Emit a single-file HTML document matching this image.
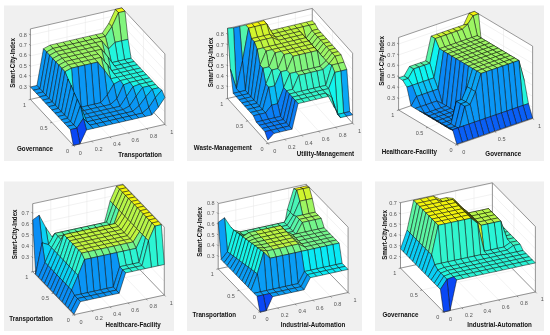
<!DOCTYPE html>
<html><head><meta charset="utf-8"><style>
html,body{margin:0;padding:0;background:#fff;}
svg{display:block;filter:blur(0.3px);}
</style></head><body>
<svg xmlns="http://www.w3.org/2000/svg" width="550" height="335" viewBox="0 0 550 335">
<rect width="550" height="335" fill="#fff"/>
<rect x="4" y="5.5" width="170" height="155.5" fill="#f0f0f0"/>
<polygon points="30.4,99.4 73.4,145.4 164.9,124.4 164.9,53.9 121.9,7.9 30.4,28.9" fill="#fff"/>
<g stroke="#e4e4e4" stroke-width="0.5"><line x1="73.4" y1="145.4" x2="30.4" y2="99.4"/><line x1="30.4" y1="99.4" x2="30.4" y2="28.9"/><line x1="91.7" y1="141.2" x2="48.7" y2="95.2"/><line x1="48.7" y1="95.2" x2="48.7" y2="24.7"/><line x1="110" y1="137" x2="67" y2="91"/><line x1="67" y1="91" x2="67" y2="20.5"/><line x1="128.3" y1="132.8" x2="85.3" y2="86.8"/><line x1="85.3" y1="86.8" x2="85.3" y2="16.3"/><line x1="146.6" y1="128.6" x2="103.6" y2="82.6"/><line x1="103.6" y1="82.6" x2="103.6" y2="12.1"/><line x1="164.9" y1="124.4" x2="121.9" y2="78.4"/><line x1="121.9" y1="78.4" x2="121.9" y2="7.9"/><line x1="73.4" y1="145.4" x2="164.9" y2="124.4"/><line x1="164.9" y1="124.4" x2="164.9" y2="53.9"/><line x1="51.9" y1="122.4" x2="143.4" y2="101.4"/><line x1="143.4" y1="101.4" x2="143.4" y2="30.9"/><line x1="30.4" y1="99.4" x2="121.9" y2="78.4"/><line x1="121.9" y1="78.4" x2="121.9" y2="7.9"/><line x1="30.4" y1="86.96" x2="121.9" y2="65.96"/><line x1="121.9" y1="65.96" x2="164.9" y2="111.96"/><line x1="30.4" y1="76.59" x2="121.9" y2="55.59"/><line x1="121.9" y1="55.59" x2="164.9" y2="101.59"/><line x1="30.4" y1="66.22" x2="121.9" y2="45.22"/><line x1="121.9" y1="45.22" x2="164.9" y2="91.22"/><line x1="30.4" y1="55.86" x2="121.9" y2="34.86"/><line x1="121.9" y1="34.86" x2="164.9" y2="80.86"/><line x1="30.4" y1="45.49" x2="121.9" y2="24.49"/><line x1="121.9" y1="24.49" x2="164.9" y2="70.49"/><line x1="30.4" y1="35.12" x2="121.9" y2="14.12"/><line x1="121.9" y1="14.12" x2="164.9" y2="60.12"/></g>
<g stroke="#808080" stroke-width="0.8"><line x1="30.4" y1="28.9" x2="121.9" y2="7.9"/><line x1="121.9" y1="7.9" x2="164.9" y2="53.9"/><line x1="164.9" y1="53.9" x2="164.9" y2="124.4"/><line x1="121.9" y1="78.4" x2="121.9" y2="7.9"/><line x1="30.4" y1="99.4" x2="121.9" y2="78.4"/><line x1="121.9" y1="78.4" x2="164.9" y2="124.4"/></g>
<g stroke="#0a0a0a" stroke-width="0.5" stroke-linejoin="round"><polygon points="118.44,12.69 124.97,11.19 121.9,7.9 115.36,9.4" fill="#f5f50a"/><polygon points="111.9,26.63 118.44,12.69 115.36,9.4 108.83,23.34" fill="#bff540"/><polygon points="105.36,36.42 111.9,26.63 108.83,23.34 102.29,33.14" fill="#9cf563"/><polygon points="121.51,40.85 128.04,39.35 124.97,11.19 118.44,12.69" fill="#82f57d"/><polygon points="98.83,37.92 105.36,36.42 102.29,33.14 95.76,34.64" fill="#9cf563"/><polygon points="114.97,42.35 121.51,40.85 118.44,12.69 111.9,26.63" fill="#82f57d"/><polygon points="92.29,39.42 98.83,37.92 95.76,34.64 89.22,36.14" fill="#9cf563"/><polygon points="108.44,49.04 114.97,42.35 111.9,26.63 105.36,36.42" fill="#62f59d"/><polygon points="124.58,59.69 131.11,58.19 128.04,39.35 121.51,40.85" fill="#22f5dd"/><polygon points="85.76,40.92 92.29,39.42 89.22,36.14 82.69,37.64" fill="#9cf563"/><polygon points="101.9,41.21 108.44,49.04 105.36,36.42 98.83,37.92" fill="#9cf563"/><polygon points="118.04,61.19 124.58,59.69 121.51,40.85 114.97,42.35" fill="#22f5dd"/><polygon points="79.22,42.42 85.76,40.92 82.69,37.64 76.15,39.14" fill="#9cf563"/><polygon points="95.36,42.71 101.9,41.21 98.83,37.92 92.29,39.42" fill="#9cf563"/><polygon points="111.51,62.69 118.04,61.19 114.97,42.35 108.44,49.04" fill="#22f5dd"/><polygon points="127.65,62.98 134.19,61.48 131.11,58.19 124.58,59.69" fill="#22f5dd"/><polygon points="72.69,43.92 79.22,42.42 76.15,39.14 69.61,40.64" fill="#9cf563"/><polygon points="88.83,44.21 95.36,42.71 92.29,39.42 85.76,40.92" fill="#9cf563"/><polygon points="104.97,53.82 111.51,62.69 108.44,49.04 101.9,41.21" fill="#62f59d"/><polygon points="121.11,64.48 127.65,62.98 124.58,59.69 118.04,61.19" fill="#22f5dd"/><polygon points="66.15,45.42 72.69,43.92 69.61,40.64 63.08,42.14" fill="#9cf563"/><polygon points="82.29,45.71 88.83,44.21 85.76,40.92 79.22,42.42" fill="#9cf563"/><polygon points="98.44,45.99 104.97,53.82 101.9,41.21 95.36,42.71" fill="#9cf563"/><polygon points="114.58,65.98 121.11,64.48 118.04,61.19 111.51,62.69" fill="#22f5dd"/><polygon points="130.72,66.26 137.26,64.76 134.19,61.48 127.65,62.98" fill="#22f5dd"/><polygon points="59.61,46.92 66.15,45.42 63.08,42.14 56.54,43.64" fill="#9cf563"/><polygon points="75.76,47.21 82.29,45.71 79.22,42.42 72.69,43.92" fill="#9cf563"/><polygon points="91.9,47.49 98.44,45.99 95.36,42.71 88.83,44.21" fill="#9cf563"/><polygon points="108.04,57.11 114.58,65.98 111.51,62.69 104.97,53.82" fill="#62f59d"/><polygon points="124.19,67.76 130.72,66.26 127.65,62.98 121.11,64.48" fill="#22f5dd"/><polygon points="53.08,48.42 59.61,46.92 56.54,43.64 50.01,45.14" fill="#9cf563"/><polygon points="69.22,48.71 75.76,47.21 72.69,43.92 66.15,45.42" fill="#9cf563"/><polygon points="85.36,48.99 91.9,47.49 88.83,44.21 82.29,45.71" fill="#9cf563"/><polygon points="101.51,49.28 108.04,57.11 104.97,53.82 98.44,45.99" fill="#9cf563"/><polygon points="117.65,69.26 124.19,67.76 121.11,64.48 114.58,65.98" fill="#22f5dd"/><polygon points="133.79,69.55 140.33,68.05 137.26,64.76 130.72,66.26" fill="#22f5dd"/><polygon points="46.54,51.99 53.08,48.42 50.01,45.14 43.47,48.71" fill="#8ff570"/><polygon points="62.69,50.21 69.22,48.71 66.15,45.42 59.61,46.92" fill="#9cf563"/><polygon points="78.83,50.49 85.36,48.99 82.29,45.71 75.76,47.21" fill="#9cf563"/><polygon points="94.97,50.78 101.51,49.28 98.44,45.99 91.9,47.49" fill="#9cf563"/><polygon points="111.11,70.76 117.65,69.26 114.58,65.98 108.04,57.11" fill="#22f5dd"/><polygon points="127.26,71.05 133.79,69.55 130.72,66.26 124.19,67.76" fill="#22f5dd"/><polygon points="40.01,88.74 46.54,51.99 43.47,48.71 36.94,85.46" fill="#0a97f5"/><polygon points="56.15,51.71 62.69,50.21 59.61,46.92 53.08,48.42" fill="#9cf563"/><polygon points="72.29,51.99 78.83,50.49 75.76,47.21 69.22,48.71" fill="#9cf563"/><polygon points="88.44,52.28 94.97,50.78 91.9,47.49 85.36,48.99" fill="#9cf563"/><polygon points="104.58,61.89 111.11,70.76 108.04,57.11 101.51,49.28" fill="#62f59d"/><polygon points="120.72,72.55 127.26,71.05 124.19,67.76 117.65,69.26" fill="#22f5dd"/><polygon points="136.86,72.83 143.4,71.33 140.33,68.05 133.79,69.55" fill="#22f5dd"/><polygon points="33.47,90.24 40.01,88.74 36.94,85.46 30.4,86.96" fill="#0a97f5"/><polygon points="49.61,55.28 56.15,51.71 53.08,48.42 46.54,51.99" fill="#8ff570"/><polygon points="65.76,53.49 72.29,51.99 69.22,48.71 62.69,50.21" fill="#9cf563"/><polygon points="81.9,53.78 88.44,52.28 85.36,48.99 78.83,50.49" fill="#9cf563"/><polygon points="98.04,54.06 104.58,61.89 101.51,49.28 94.97,50.78" fill="#9cf563"/><polygon points="114.19,74.05 120.72,72.55 117.65,69.26 111.11,70.76" fill="#22f5dd"/><polygon points="130.33,74.33 136.86,72.83 133.79,69.55 127.26,71.05" fill="#22f5dd"/><polygon points="43.08,92.03 49.61,55.28 46.54,51.99 40.01,88.74" fill="#0a97f5"/><polygon points="59.22,54.99 65.76,53.49 62.69,50.21 56.15,51.71" fill="#9cf563"/><polygon points="75.36,55.28 81.9,53.78 78.83,50.49 72.29,51.99" fill="#9cf563"/><polygon points="91.51,55.56 98.04,54.06 94.97,50.78 88.44,52.28" fill="#9cf563"/><polygon points="107.65,65.18 114.19,74.05 111.11,70.76 104.58,61.89" fill="#62f59d"/><polygon points="123.79,75.83 130.33,74.33 127.26,71.05 120.72,72.55" fill="#22f5dd"/><polygon points="139.94,76.12 146.47,74.62 143.4,71.33 136.86,72.83" fill="#22f5dd"/><polygon points="36.54,93.53 43.08,92.03 40.01,88.74 33.47,90.24" fill="#0a97f5"/><polygon points="52.69,58.57 59.22,54.99 56.15,51.71 49.61,55.28" fill="#8ff570"/><polygon points="68.83,56.78 75.36,55.28 72.29,51.99 65.76,53.49" fill="#9cf563"/><polygon points="84.97,57.06 91.51,55.56 88.44,52.28 81.9,53.78" fill="#9cf563"/><polygon points="101.11,57.35 107.65,65.18 104.58,61.89 98.04,54.06" fill="#9cf563"/><polygon points="117.26,77.33 123.79,75.83 120.72,72.55 114.19,74.05" fill="#22f5dd"/><polygon points="133.4,77.62 139.94,76.12 136.86,72.83 130.33,74.33" fill="#22f5dd"/><polygon points="46.15,95.32 52.69,58.57 49.61,55.28 43.08,92.03" fill="#0a97f5"/><polygon points="62.29,58.28 68.83,56.78 65.76,53.49 59.22,54.99" fill="#9cf563"/><polygon points="78.44,58.56 84.97,57.06 81.9,53.78 75.36,55.28" fill="#9cf563"/><polygon points="94.58,58.85 101.11,57.35 98.04,54.06 91.51,55.56" fill="#9cf563"/><polygon points="110.72,78.83 117.26,77.33 114.19,74.05 107.65,65.18" fill="#22f5dd"/><polygon points="126.86,79.12 133.4,77.62 130.33,74.33 123.79,75.83" fill="#22f5dd"/><polygon points="143.01,79.41 149.54,77.91 146.47,74.62 139.94,76.12" fill="#22f5dd"/><polygon points="39.61,96.82 46.15,95.32 43.08,92.03 36.54,93.53" fill="#0a97f5"/><polygon points="55.76,61.85 62.29,58.28 59.22,54.99 52.69,58.57" fill="#8ff570"/><polygon points="71.9,60.06 78.44,58.56 75.36,55.28 68.83,56.78" fill="#9cf563"/><polygon points="88.04,60.35 94.58,58.85 91.51,55.56 84.97,57.06" fill="#9cf563"/><polygon points="104.19,69.97 110.72,78.83 107.65,65.18 101.11,57.35" fill="#62f59d"/><polygon points="120.33,80.62 126.86,79.12 123.79,75.83 117.26,77.33" fill="#22f5dd"/><polygon points="136.47,80.91 143.01,79.41 139.94,76.12 133.4,77.62" fill="#22f5dd"/><polygon points="49.22,98.6 55.76,61.85 52.69,58.57 46.15,95.32" fill="#0a97f5"/><polygon points="65.36,61.56 71.9,60.06 68.83,56.78 62.29,58.28" fill="#9cf563"/><polygon points="81.51,61.85 88.04,60.35 84.97,57.06 78.44,58.56" fill="#9cf563"/><polygon points="97.65,62.14 104.19,69.97 101.11,57.35 94.58,58.85" fill="#9cf563"/><polygon points="113.79,84.19 120.33,80.62 117.26,77.33 110.72,78.83" fill="#14f5eb"/><polygon points="129.94,82.41 136.47,80.91 133.4,77.62 126.86,79.12" fill="#22f5dd"/><polygon points="146.08,82.69 152.61,81.19 149.54,77.91 143.01,79.41" fill="#22f5dd"/><polygon points="42.69,100.1 49.22,98.6 46.15,95.32 39.61,96.82" fill="#0a97f5"/><polygon points="58.83,65.14 65.36,61.56 62.29,58.28 55.76,61.85" fill="#8ff570"/><polygon points="74.97,63.35 81.51,61.85 78.44,58.56 71.9,60.06" fill="#9cf563"/><polygon points="91.11,63.64 97.65,62.14 94.58,58.85 88.04,60.35" fill="#9cf563"/><polygon points="107.26,95.02 113.79,84.19 110.72,78.83 104.19,69.97" fill="#0ab0f5"/><polygon points="123.4,84.94 129.94,82.41 126.86,79.12 120.33,80.62" fill="#1bf5e4"/><polygon points="139.54,84.19 146.08,82.69 143.01,79.41 136.47,80.91" fill="#22f5dd"/><polygon points="52.29,101.89 58.83,65.14 55.76,61.85 49.22,98.6" fill="#0a97f5"/><polygon points="68.44,64.85 74.97,63.35 71.9,60.06 65.36,61.56" fill="#9cf563"/><polygon points="84.58,65.14 91.11,63.64 88.04,60.35 81.51,61.85" fill="#9cf563"/><polygon points="100.72,102.74 107.26,95.02 104.19,69.97 97.65,62.14" fill="#0a97f5"/><polygon points="116.86,98.88 123.4,84.94 120.33,80.62 113.79,84.19" fill="#0aa8f5"/><polygon points="133.01,86.73 139.54,84.19 136.47,80.91 129.94,82.41" fill="#1bf5e4"/><polygon points="149.15,85.98 155.69,84.48 152.61,81.19 146.08,82.69" fill="#22f5dd"/><polygon points="45.76,103.39 52.29,101.89 49.22,98.6 42.69,100.1" fill="#0a97f5"/><polygon points="61.9,68.42 68.44,64.85 65.36,61.56 58.83,65.14" fill="#8ff570"/><polygon points="78.04,66.64 84.58,65.14 81.51,61.85 74.97,63.35" fill="#9cf563"/><polygon points="94.19,104.24 100.72,102.74 97.65,62.14 91.11,63.64" fill="#0a97f5"/><polygon points="110.33,104.53 116.86,98.88 113.79,84.19 107.26,95.02" fill="#0a97f5"/><polygon points="126.47,96.52 133.01,86.73 129.94,82.41 123.4,84.94" fill="#0ab8f5"/><polygon points="142.61,87.48 149.15,85.98 146.08,82.69 139.54,84.19" fill="#22f5dd"/><polygon points="55.36,105.17 61.9,68.42 58.83,65.14 52.29,101.89" fill="#0a97f5"/><polygon points="71.51,68.14 78.04,66.64 74.97,63.35 68.44,64.85" fill="#9cf563"/><polygon points="87.65,105.74 94.19,104.24 91.11,63.64 84.58,65.14" fill="#0a97f5"/><polygon points="103.79,106.03 110.33,104.53 107.26,95.02 100.72,102.74" fill="#0a97f5"/><polygon points="119.94,106.32 126.47,96.52 123.4,84.94 116.86,98.88" fill="#0a97f5"/><polygon points="136.08,96.23 142.61,87.48 139.54,84.19 133.01,86.73" fill="#0ac1f5"/><polygon points="152.22,89.26 158.76,87.76 155.69,84.48 149.15,85.98" fill="#22f5dd"/><polygon points="48.83,106.67 55.36,105.17 52.29,101.89 45.76,103.39" fill="#0a97f5"/><polygon points="64.97,71.71 71.51,68.14 68.44,64.85 61.9,68.42" fill="#8ff570"/><polygon points="81.11,107.24 87.65,105.74 84.58,65.14 78.04,66.64" fill="#0a97f5"/><polygon points="97.26,107.53 103.79,106.03 100.72,102.74 94.19,104.24" fill="#0a97f5"/><polygon points="113.4,107.82 119.94,106.32 116.86,98.88 110.33,104.53" fill="#0a97f5"/><polygon points="129.54,106.03 136.08,96.23 133.01,86.73 126.47,96.52" fill="#0a9ff5"/><polygon points="145.69,96.98 152.22,89.26 149.15,85.98 142.61,87.48" fill="#0ac5f5"/><polygon points="58.44,108.46 64.97,71.71 61.9,68.42 55.36,105.17" fill="#0a97f5"/><polygon points="74.58,108.74 81.11,107.24 78.04,66.64 71.51,68.14" fill="#0a97f5"/><polygon points="90.72,109.03 97.26,107.53 94.19,104.24 87.65,105.74" fill="#0a97f5"/><polygon points="106.86,109.32 113.4,107.82 110.33,104.53 103.79,106.03" fill="#0a97f5"/><polygon points="123.01,109.6 129.54,106.03 126.47,96.52 119.94,106.32" fill="#0a97f5"/><polygon points="139.15,105.74 145.69,96.98 142.61,87.48 136.08,96.23" fill="#0aa8f5"/><polygon points="155.29,97.73 161.83,90.01 158.76,87.76 152.22,89.26" fill="#0ac9f5"/><polygon points="51.9,109.96 58.44,108.46 55.36,105.17 48.83,106.67" fill="#0a97f5"/><polygon points="68.04,79.14 74.58,108.74 71.51,68.14 64.97,71.71" fill="#22f5dd"/><polygon points="84.19,110.53 90.72,109.03 87.65,105.74 81.11,107.24" fill="#0a97f5"/><polygon points="100.33,110.82 106.86,109.32 103.79,106.03 97.26,107.53" fill="#0a97f5"/><polygon points="116.47,111.1 123.01,109.6 119.94,106.32 113.4,107.82" fill="#0a97f5"/><polygon points="132.61,111.39 139.15,105.74 136.08,96.23 129.54,106.03" fill="#0a97f5"/><polygon points="148.76,107.53 155.29,97.73 152.22,89.26 145.69,96.98" fill="#0aa8f5"/><polygon points="61.51,111.74 68.04,79.14 64.97,71.71 58.44,108.46" fill="#0a97f5"/><polygon points="77.65,112.03 84.19,110.53 81.11,107.24 74.58,108.74" fill="#0a97f5"/><polygon points="93.79,112.32 100.33,110.82 97.26,107.53 90.72,109.03" fill="#0a97f5"/><polygon points="109.94,112.6 116.47,111.1 113.4,107.82 106.86,109.32" fill="#0a97f5"/><polygon points="126.08,112.89 132.61,111.39 129.54,106.03 123.01,109.6" fill="#0a97f5"/><polygon points="142.22,113.17 148.76,107.53 145.69,96.98 139.15,105.74" fill="#0a97f5"/><polygon points="158.36,107.24 164.9,97.44 161.83,90.01 155.29,97.73" fill="#0ab0f5"/><polygon points="54.97,113.24 61.51,111.74 58.44,108.46 51.9,109.96" fill="#0a97f5"/><polygon points="71.11,85.54 77.65,112.03 74.58,108.74 68.04,79.14" fill="#0df5f2"/><polygon points="87.26,113.82 93.79,112.32 90.72,109.03 84.19,110.53" fill="#0a97f5"/><polygon points="103.4,114.1 109.94,112.6 106.86,109.32 100.33,110.82" fill="#0a97f5"/><polygon points="119.54,114.39 126.08,112.89 123.01,109.6 116.47,111.1" fill="#0a97f5"/><polygon points="135.69,114.67 142.22,113.17 139.15,105.74 132.61,111.39" fill="#0a97f5"/><polygon points="151.83,114.96 158.36,107.24 155.29,97.73 148.76,107.53" fill="#0a97f5"/><polygon points="64.58,115.03 71.11,85.54 68.04,79.14 61.51,111.74" fill="#0a97f5"/><polygon points="80.72,115.32 87.26,113.82 84.19,110.53 77.65,112.03" fill="#0a97f5"/><polygon points="96.86,115.6 103.4,114.1 100.33,110.82 93.79,112.32" fill="#0a97f5"/><polygon points="113.01,115.89 119.54,114.39 116.47,111.1 109.94,112.6" fill="#0a97f5"/><polygon points="129.15,116.17 135.69,114.67 132.61,111.39 126.08,112.89" fill="#0a97f5"/><polygon points="145.29,116.46 151.83,114.96 148.76,107.53 142.22,113.17" fill="#0a97f5"/><polygon points="58.04,116.53 64.58,115.03 61.51,111.74 54.97,113.24" fill="#0a97f5"/><polygon points="74.19,92.97 80.72,115.32 77.65,112.03 71.11,85.54" fill="#48f5b7"/><polygon points="90.33,117.1 96.86,115.6 93.79,112.32 87.26,113.82" fill="#0a97f5"/><polygon points="106.47,117.39 113.01,115.89 109.94,112.6 103.4,114.1" fill="#0a97f5"/><polygon points="122.61,117.67 129.15,116.17 126.08,112.89 119.54,114.39" fill="#0a97f5"/><polygon points="138.76,117.96 145.29,116.46 142.22,113.17 135.69,114.67" fill="#0a97f5"/><polygon points="67.65,118.32 74.19,92.97 71.11,85.54 64.58,115.03" fill="#0a97f5"/><polygon points="83.79,118.6 90.33,117.1 87.26,113.82 80.72,115.32" fill="#0a97f5"/><polygon points="99.94,118.89 106.47,117.39 103.4,114.1 96.86,115.6" fill="#0a97f5"/><polygon points="116.08,119.17 122.61,117.67 119.54,114.39 113.01,115.89" fill="#0a97f5"/><polygon points="132.22,119.46 138.76,117.96 135.69,114.67 129.15,116.17" fill="#0a97f5"/><polygon points="61.11,119.82 67.65,118.32 64.58,115.03 58.04,116.53" fill="#0a97f5"/><polygon points="77.26,99.37 83.79,118.6 80.72,115.32 74.19,92.97" fill="#35f5ca"/><polygon points="93.4,120.39 99.94,118.89 96.86,115.6 90.33,117.1" fill="#0a97f5"/><polygon points="109.54,120.67 116.08,119.17 113.01,115.89 106.47,117.39" fill="#0a97f5"/><polygon points="125.69,120.96 132.22,119.46 129.15,116.17 122.61,117.67" fill="#0a97f5"/><polygon points="70.72,121.6 77.26,99.37 74.19,92.97 67.65,118.32" fill="#0a97f5"/><polygon points="86.86,121.89 93.4,120.39 90.33,117.1 83.79,118.6" fill="#0a97f5"/><polygon points="103.01,122.17 109.54,120.67 106.47,117.39 99.94,118.89" fill="#0a97f5"/><polygon points="119.15,122.46 125.69,120.96 122.61,117.67 116.08,119.17" fill="#0a97f5"/><polygon points="64.19,123.1 70.72,121.6 67.65,118.32 61.11,119.82" fill="#0a97f5"/><polygon points="80.33,105.76 86.86,121.89 83.79,118.6 77.26,99.37" fill="#22f5dd"/><polygon points="96.47,123.67 103.01,122.17 99.94,118.89 93.4,120.39" fill="#0a97f5"/><polygon points="112.61,123.96 119.15,122.46 116.08,119.17 109.54,120.67" fill="#0a97f5"/><polygon points="73.79,124.89 80.33,105.76 77.26,99.37 70.72,121.6" fill="#0a97f5"/><polygon points="89.94,125.17 96.47,123.67 93.4,120.39 86.86,121.89" fill="#0a97f5"/><polygon points="106.08,125.46 112.61,123.96 109.54,120.67 103.01,122.17" fill="#0a97f5"/><polygon points="67.26,126.39 73.79,124.89 70.72,121.6 64.19,123.1" fill="#0a97f5"/><polygon points="83.4,118.38 89.94,125.17 86.86,121.89 80.33,105.76" fill="#0acef5"/><polygon points="99.54,126.96 106.08,125.46 103.01,122.17 96.47,123.67" fill="#0a97f5"/><polygon points="76.86,128.17 83.4,118.38 80.33,105.76 73.79,124.89" fill="#0a97f5"/><polygon points="93.01,128.46 99.54,126.96 96.47,123.67 89.94,125.17" fill="#0a97f5"/><polygon points="70.33,129.67 76.86,128.17 73.79,124.89 67.26,126.39" fill="#0a97f5"/><polygon points="86.47,129.96 93.01,128.46 89.94,125.17 83.4,118.38" fill="#0a97f5"/><polygon points="79.94,143.9 86.47,129.96 83.4,118.38 76.86,128.17" fill="#0a47f5"/><polygon points="73.4,145.4 79.94,143.9 76.86,128.17 70.33,129.67" fill="#0a47f5"/></g>
<g stroke="#444" stroke-width="0.55"><line x1="73.4" y1="145.4" x2="164.9" y2="124.4"/><line x1="73.4" y1="145.4" x2="30.4" y2="99.4"/><line x1="30.4" y1="99.4" x2="30.4" y2="28.9"/><line x1="73.4" y1="145.4" x2="74.63" y2="146.71"/><line x1="91.7" y1="141.2" x2="92.93" y2="142.51"/><line x1="110" y1="137" x2="111.23" y2="138.31"/><line x1="128.3" y1="132.8" x2="129.53" y2="134.11"/><line x1="146.6" y1="128.6" x2="147.83" y2="129.91"/><line x1="164.9" y1="124.4" x2="166.13" y2="125.71"/><line x1="73.4" y1="145.4" x2="71.65" y2="145.8"/><line x1="51.9" y1="122.4" x2="50.15" y2="122.8"/><line x1="30.4" y1="99.4" x2="28.65" y2="99.8"/><line x1="30.4" y1="86.96" x2="29.17" y2="85.64"/><line x1="30.4" y1="76.59" x2="29.17" y2="75.28"/><line x1="30.4" y1="66.22" x2="29.17" y2="64.91"/><line x1="30.4" y1="55.86" x2="29.17" y2="54.54"/><line x1="30.4" y1="45.49" x2="29.17" y2="44.17"/><line x1="30.4" y1="35.12" x2="29.17" y2="33.81"/></g>
<g font-family="Liberation Sans, sans-serif" font-size="6.2" fill="#555"><text transform="translate(26.8,88.56) scale(0.89,1)" text-anchor="end">0.3</text><text transform="translate(26.8,78.19) scale(0.89,1)" text-anchor="end">0.4</text><text transform="translate(26.8,67.82) scale(0.89,1)" text-anchor="end">0.5</text><text transform="translate(26.8,57.46) scale(0.89,1)" text-anchor="end">0.6</text><text transform="translate(26.8,47.09) scale(0.89,1)" text-anchor="end">0.7</text><text transform="translate(26.8,36.72) scale(0.89,1)" text-anchor="end">0.8</text><text transform="translate(69.1,152.6) scale(0.89,1)" text-anchor="end">0</text><text transform="translate(47.6,129.6) scale(0.89,1)" text-anchor="end">0.5</text><text transform="translate(26.1,106.6) scale(0.89,1)" text-anchor="end">1</text><text transform="translate(80.4,154.8) scale(0.89,1)" text-anchor="middle">0</text><text transform="translate(98.7,150.6) scale(0.89,1)" text-anchor="middle">0.2</text><text transform="translate(117,146.4) scale(0.89,1)" text-anchor="middle">0.4</text><text transform="translate(135.3,142.2) scale(0.89,1)" text-anchor="middle">0.6</text><text transform="translate(153.6,138) scale(0.89,1)" text-anchor="middle">0.8</text><text transform="translate(171.9,133.8) scale(0.89,1)" text-anchor="middle">1</text></g>
<g font-family="Liberation Sans, sans-serif" font-weight="bold" font-size="7" fill="#111"><text transform="translate(14.9,63) rotate(-90) scale(0.89,1)" text-anchor="middle">Smart-City-Index</text><text transform="translate(35,150.5) scale(0.89,1)" text-anchor="middle">Governance</text><text transform="translate(140.1,156.9) scale(0.89,1)" text-anchor="middle">Transportation</text></g>
<rect x="187" y="5.5" width="175" height="155.5" fill="#f0f0f0"/>
<polygon points="227.5,98.5 267.8,143.3 352.6,123.2 352.6,53.2 312.3,8.4 227.5,28.5" fill="#fff"/>
<g stroke="#e4e4e4" stroke-width="0.5"><line x1="267.8" y1="143.3" x2="227.5" y2="98.5"/><line x1="227.5" y1="98.5" x2="227.5" y2="28.5"/><line x1="284.76" y1="139.28" x2="244.46" y2="94.48"/><line x1="244.46" y1="94.48" x2="244.46" y2="24.48"/><line x1="301.72" y1="135.26" x2="261.42" y2="90.46"/><line x1="261.42" y1="90.46" x2="261.42" y2="20.46"/><line x1="318.68" y1="131.24" x2="278.38" y2="86.44"/><line x1="278.38" y1="86.44" x2="278.38" y2="16.44"/><line x1="335.64" y1="127.22" x2="295.34" y2="82.42"/><line x1="295.34" y1="82.42" x2="295.34" y2="12.42"/><line x1="352.6" y1="123.2" x2="312.3" y2="78.4"/><line x1="312.3" y1="78.4" x2="312.3" y2="8.4"/><line x1="267.8" y1="143.3" x2="352.6" y2="123.2"/><line x1="352.6" y1="123.2" x2="352.6" y2="53.2"/><line x1="247.65" y1="120.9" x2="332.45" y2="100.8"/><line x1="332.45" y1="100.8" x2="332.45" y2="30.8"/><line x1="227.5" y1="98.5" x2="312.3" y2="78.4"/><line x1="312.3" y1="78.4" x2="312.3" y2="8.4"/><line x1="227.5" y1="86.96" x2="312.3" y2="66.86"/><line x1="312.3" y1="66.86" x2="352.6" y2="111.66"/><line x1="227.5" y1="76.46" x2="312.3" y2="56.36"/><line x1="312.3" y1="56.36" x2="352.6" y2="101.16"/><line x1="227.5" y1="65.97" x2="312.3" y2="45.87"/><line x1="312.3" y1="45.87" x2="352.6" y2="90.67"/><line x1="227.5" y1="55.47" x2="312.3" y2="35.37"/><line x1="312.3" y1="35.37" x2="352.6" y2="80.17"/><line x1="227.5" y1="44.98" x2="312.3" y2="24.88"/><line x1="312.3" y1="24.88" x2="352.6" y2="69.68"/><line x1="227.5" y1="34.48" x2="312.3" y2="14.38"/><line x1="312.3" y1="14.38" x2="352.6" y2="59.18"/></g>
<g stroke="#808080" stroke-width="0.8"><line x1="227.5" y1="28.5" x2="312.3" y2="8.4"/><line x1="312.3" y1="8.4" x2="352.6" y2="53.2"/><line x1="352.6" y1="53.2" x2="352.6" y2="123.2"/><line x1="312.3" y1="78.4" x2="312.3" y2="8.4"/><line x1="227.5" y1="98.5" x2="312.3" y2="78.4"/><line x1="312.3" y1="78.4" x2="352.6" y2="123.2"/></g>
<g stroke="#0a0a0a" stroke-width="0.5" stroke-linejoin="round"><polygon points="309.12,25.31 315.18,23.88 312.3,20.68 306.24,22.11" fill="#c0f53f"/><polygon points="303.06,26.75 309.12,25.31 306.24,22.11 300.19,23.55" fill="#c0f53f"/><polygon points="297.01,28.19 303.06,26.75 300.19,23.55 294.13,24.99" fill="#c0f53f"/><polygon points="312,30.61 318.06,29.18 315.18,23.88 309.12,25.31" fill="#b7f548"/><polygon points="290.95,29.62 297.01,28.19 294.13,24.99 288.07,26.42" fill="#c0f53f"/><polygon points="305.94,38.35 312,30.61 309.12,25.31 303.06,26.75" fill="#9bf564"/><polygon points="284.89,31.06 290.95,29.62 288.07,26.42 282.01,27.86" fill="#c0f53f"/><polygon points="299.89,31.39 305.94,38.35 303.06,26.75 297.01,28.19" fill="#c0f53f"/><polygon points="314.88,33.81 320.94,32.38 318.06,29.18 312,30.61" fill="#b7f548"/><polygon points="278.84,32.49 284.89,31.06 282.01,27.86 275.96,29.29" fill="#c0f53f"/><polygon points="293.83,32.82 299.89,31.39 297.01,28.19 290.95,29.62" fill="#c0f53f"/><polygon points="308.82,41.55 314.88,33.81 312,30.61 305.94,38.35" fill="#9bf564"/><polygon points="272.78,33.93 278.84,32.49 275.96,29.29 269.9,30.73" fill="#c0f53f"/><polygon points="287.77,34.26 293.83,32.82 290.95,29.62 284.89,31.06" fill="#c0f53f"/><polygon points="302.76,34.59 308.82,41.55 305.94,38.35 299.89,31.39" fill="#c0f53f"/><polygon points="317.76,37.01 323.81,35.58 320.94,32.38 314.88,33.81" fill="#b7f548"/><polygon points="266.72,23.82 272.78,33.93 269.9,30.73 263.84,20.62" fill="#f2f50d"/><polygon points="281.71,35.69 287.77,34.26 284.89,31.06 278.84,32.49" fill="#c0f53f"/><polygon points="296.71,36.02 302.76,34.59 299.89,31.39 293.83,32.82" fill="#c0f53f"/><polygon points="311.7,44.75 317.76,37.01 314.88,33.81 308.82,41.55" fill="#9bf564"/><polygon points="260.66,25.26 266.72,23.82 263.84,20.62 257.79,22.06" fill="#f2f50d"/><polygon points="275.66,37.13 281.71,35.69 278.84,32.49 272.78,33.93" fill="#c0f53f"/><polygon points="290.65,37.46 296.71,36.02 293.83,32.82 287.77,34.26" fill="#c0f53f"/><polygon points="305.64,37.79 311.7,44.75 308.82,41.55 302.76,34.59" fill="#c0f53f"/><polygon points="320.64,40.21 326.69,38.78 323.81,35.58 317.76,37.01" fill="#b7f548"/><polygon points="254.61,26.69 260.66,25.26 257.79,22.06 251.73,23.49" fill="#f2f50d"/><polygon points="269.6,34.37 275.66,37.13 272.78,33.93 266.72,23.82" fill="#d2f52d"/><polygon points="284.59,38.89 290.65,37.46 287.77,34.26 281.71,35.69" fill="#c0f53f"/><polygon points="299.59,39.22 305.64,37.79 302.76,34.59 296.71,36.02" fill="#c0f53f"/><polygon points="314.58,47.95 320.64,40.21 317.76,37.01 311.7,44.75" fill="#9bf564"/><polygon points="248.55,28.13 254.61,26.69 251.73,23.49 245.67,24.93" fill="#f2f50d"/><polygon points="263.54,35.8 269.6,34.37 266.72,23.82 260.66,25.26" fill="#d2f52d"/><polygon points="278.54,40.33 284.59,38.89 281.71,35.69 275.66,37.13" fill="#c0f53f"/><polygon points="293.53,40.66 299.59,39.22 296.71,36.02 290.65,37.46" fill="#c0f53f"/><polygon points="308.52,40.99 314.58,47.95 311.7,44.75 305.64,37.79" fill="#c0f53f"/><polygon points="323.51,43.41 329.57,41.98 326.69,38.78 320.64,40.21" fill="#b7f548"/><polygon points="242.49,61.05 248.55,28.13 245.67,24.93 239.61,26.36" fill="#53f5ac"/><polygon points="257.49,37.24 263.54,35.8 260.66,25.26 254.61,26.69" fill="#d2f52d"/><polygon points="272.48,37.57 278.54,40.33 275.66,37.13 269.6,34.37" fill="#d2f52d"/><polygon points="287.47,42.09 293.53,40.66 290.65,37.46 284.59,38.89" fill="#c0f53f"/><polygon points="302.46,42.42 308.52,40.99 305.64,37.79 299.59,39.22" fill="#c0f53f"/><polygon points="317.46,51.15 323.51,43.41 320.64,40.21 314.58,47.95" fill="#9bf564"/><polygon points="236.44,88.72 242.49,61.05 239.61,26.36 233.56,27.8" fill="#0a92f5"/><polygon points="251.43,38.67 257.49,37.24 254.61,26.69 248.55,28.13" fill="#d2f52d"/><polygon points="266.42,39 272.48,37.57 269.6,34.37 263.54,35.8" fill="#d2f52d"/><polygon points="281.41,43.53 287.47,42.09 284.59,38.89 278.54,40.33" fill="#c0f53f"/><polygon points="296.41,43.86 302.46,42.42 299.59,39.22 293.53,40.66" fill="#c0f53f"/><polygon points="311.4,44.19 317.46,51.15 314.58,47.95 308.52,40.99" fill="#c0f53f"/><polygon points="326.39,46.61 332.45,45.18 329.57,41.98 323.51,43.41" fill="#b7f548"/><polygon points="230.38,69.17 236.44,88.72 233.56,27.8 227.5,28.19" fill="#33f5cc"/><polygon points="245.37,90.48 251.43,38.67 248.55,28.13 242.49,61.05" fill="#0a92f5"/><polygon points="260.36,40.44 266.42,39 263.54,35.8 257.49,37.24" fill="#d2f52d"/><polygon points="275.36,44.96 281.41,43.53 278.54,40.33 272.48,37.57" fill="#c0f53f"/><polygon points="290.35,45.29 296.41,43.86 293.53,40.66 287.47,42.09" fill="#c0f53f"/><polygon points="305.34,45.62 311.4,44.19 308.52,40.99 302.46,42.42" fill="#c0f53f"/><polygon points="320.34,54.35 326.39,46.61 323.51,43.41 317.46,51.15" fill="#9bf564"/><polygon points="239.31,91.92 245.37,90.48 242.49,61.05 236.44,88.72" fill="#0a92f5"/><polygon points="254.31,41.87 260.36,40.44 257.49,37.24 251.43,38.67" fill="#d2f52d"/><polygon points="269.3,46.4 275.36,44.96 272.48,37.57 266.42,39" fill="#c0f53f"/><polygon points="284.29,46.73 290.35,45.29 287.47,42.09 281.41,43.53" fill="#c0f53f"/><polygon points="299.29,47.06 305.34,45.62 302.46,42.42 296.41,43.86" fill="#c0f53f"/><polygon points="314.28,47.39 320.34,54.35 317.46,51.15 311.4,44.19" fill="#c0f53f"/><polygon points="329.27,49.81 335.33,48.38 332.45,45.18 326.39,46.61" fill="#b7f548"/><polygon points="233.26,93.36 239.31,91.92 236.44,88.72 230.38,69.17" fill="#0a92f5"/><polygon points="248.25,93.68 254.31,41.87 251.43,38.67 245.37,90.48" fill="#0a92f5"/><polygon points="263.24,47.84 269.3,46.4 266.42,39 260.36,40.44" fill="#c0f53f"/><polygon points="278.24,48.16 284.29,46.73 281.41,43.53 275.36,44.96" fill="#c0f53f"/><polygon points="293.23,48.49 299.29,47.06 296.41,43.86 290.35,45.29" fill="#c0f53f"/><polygon points="308.22,48.82 314.28,47.39 311.4,44.19 305.34,45.62" fill="#c0f53f"/><polygon points="323.21,57.55 329.27,49.81 326.39,46.61 320.34,54.35" fill="#9bf564"/><polygon points="242.19,95.12 248.25,93.68 245.37,90.48 239.31,91.92" fill="#0a92f5"/><polygon points="257.19,49.27 263.24,47.84 260.36,40.44 254.31,41.87" fill="#c0f53f"/><polygon points="272.18,49.6 278.24,48.16 275.36,44.96 269.3,46.4" fill="#c0f53f"/><polygon points="287.17,49.93 293.23,48.49 290.35,45.29 284.29,46.73" fill="#c0f53f"/><polygon points="302.16,50.26 308.22,48.82 305.34,45.62 299.29,47.06" fill="#c0f53f"/><polygon points="317.16,50.59 323.21,57.55 320.34,54.35 314.28,47.39" fill="#c0f53f"/><polygon points="332.15,53.01 338.21,51.58 335.33,48.38 329.27,49.81" fill="#b7f548"/><polygon points="236.14,96.56 242.19,95.12 239.31,91.92 233.26,93.36" fill="#0a92f5"/><polygon points="251.13,96.88 257.19,49.27 254.31,41.87 248.25,93.68" fill="#0a92f5"/><polygon points="266.12,51.04 272.18,49.6 269.3,46.4 263.24,47.84" fill="#c0f53f"/><polygon points="281.11,51.36 287.17,49.93 284.29,46.73 278.24,48.16" fill="#c0f53f"/><polygon points="296.11,51.69 302.16,50.26 299.29,47.06 293.23,48.49" fill="#c0f53f"/><polygon points="311.1,52.02 317.16,50.59 314.28,47.39 308.22,48.82" fill="#c0f53f"/><polygon points="326.09,60.75 332.15,53.01 329.27,49.81 323.21,57.55" fill="#9bf564"/><polygon points="245.07,98.32 251.13,96.88 248.25,93.68 242.19,95.12" fill="#0a92f5"/><polygon points="260.06,65.07 266.12,51.04 263.24,47.84 257.19,49.27" fill="#81f57e"/><polygon points="275.06,52.8 281.11,51.36 278.24,48.16 272.18,49.6" fill="#c0f53f"/><polygon points="290.05,53.13 296.11,51.69 293.23,48.49 287.17,49.93" fill="#c0f53f"/><polygon points="305.04,53.46 311.1,52.02 308.22,48.82 302.16,50.26" fill="#c0f53f"/><polygon points="320.04,66.38 326.09,60.75 323.21,57.55 317.16,50.59" fill="#81f57e"/><polygon points="335.03,56.21 341.09,54.78 338.21,51.58 332.15,53.01" fill="#b7f548"/><polygon points="239.01,99.76 245.07,98.32 242.19,95.12 236.14,96.56" fill="#0a92f5"/><polygon points="254.01,100.08 260.06,65.07 257.19,49.27 251.13,96.88" fill="#0a92f5"/><polygon points="269,66.83 275.06,52.8 272.18,49.6 266.12,51.04" fill="#81f57e"/><polygon points="283.99,54.56 290.05,53.13 287.17,49.93 281.11,51.36" fill="#c0f53f"/><polygon points="298.99,54.89 305.04,53.46 302.16,50.26 296.11,51.69" fill="#c0f53f"/><polygon points="313.98,67.82 320.04,66.38 317.16,50.59 311.1,52.02" fill="#81f57e"/><polygon points="328.97,63.95 335.03,56.21 332.15,53.01 326.09,60.75" fill="#9bf564"/><polygon points="247.95,101.52 254.01,100.08 251.13,96.88 245.07,98.32" fill="#0a92f5"/><polygon points="262.94,68.27 269,66.83 266.12,51.04 260.06,65.07" fill="#81f57e"/><polygon points="277.94,68.59 283.99,54.56 281.11,51.36 275.06,52.8" fill="#81f57e"/><polygon points="292.93,56.33 298.99,54.89 296.11,51.69 290.05,53.13" fill="#c0f53f"/><polygon points="307.92,69.25 313.98,67.82 311.1,52.02 305.04,53.46" fill="#81f57e"/><polygon points="322.91,69.58 328.97,63.95 326.09,60.75 320.04,66.38" fill="#81f57e"/><polygon points="337.91,63.61 343.96,62.18 341.09,54.78 335.03,56.21" fill="#a4f55b"/><polygon points="241.89,102.96 247.95,101.52 245.07,98.32 239.01,99.76" fill="#0a92f5"/><polygon points="256.89,103.28 262.94,68.27 260.06,65.07 254.01,100.08" fill="#0a92f5"/><polygon points="271.88,70.03 277.94,68.59 275.06,52.8 269,66.83" fill="#81f57e"/><polygon points="286.87,70.36 292.93,56.33 290.05,53.13 283.99,54.56" fill="#81f57e"/><polygon points="301.86,70.69 307.92,69.25 305.04,53.46 298.99,54.89" fill="#81f57e"/><polygon points="316.86,71.02 322.91,69.58 320.04,66.38 313.98,67.82" fill="#81f57e"/><polygon points="331.85,65.05 337.91,63.61 335.03,56.21 328.97,63.95" fill="#a4f55b"/><polygon points="250.83,104.72 256.89,103.28 254.01,100.08 247.95,101.52" fill="#0a92f5"/><polygon points="265.82,84.06 271.88,70.03 269,66.83 262.94,68.27" fill="#33f5cc"/><polygon points="280.81,71.79 286.87,70.36 283.99,54.56 277.94,68.59" fill="#81f57e"/><polygon points="295.81,72.12 301.86,70.69 298.99,54.89 292.93,56.33" fill="#81f57e"/><polygon points="310.8,72.45 316.86,71.02 313.98,67.82 307.92,69.25" fill="#81f57e"/><polygon points="325.79,85.37 331.85,65.05 328.97,63.95 322.91,69.58" fill="#33f5cc"/><polygon points="340.79,71.01 346.84,69.57 343.96,62.18 337.91,63.61" fill="#8ef571"/><polygon points="244.77,106.16 250.83,104.72 247.95,101.52 241.89,102.96" fill="#0a92f5"/><polygon points="259.76,106.48 265.82,84.06 262.94,68.27 256.89,103.28" fill="#0a92f5"/><polygon points="274.76,85.82 280.81,71.79 277.94,68.59 271.88,70.03" fill="#33f5cc"/><polygon points="289.75,73.56 295.81,72.12 292.93,56.33 286.87,70.36" fill="#81f57e"/><polygon points="304.74,73.89 310.8,72.45 307.92,69.25 301.86,70.69" fill="#81f57e"/><polygon points="319.74,86.81 325.79,85.37 322.91,69.58 316.86,71.02" fill="#33f5cc"/><polygon points="334.73,72.45 340.79,71.01 337.91,63.61 331.85,65.05" fill="#8ef571"/><polygon points="253.71,107.92 259.76,106.48 256.89,103.28 250.83,104.72" fill="#0a92f5"/><polygon points="268.7,87.26 274.76,85.82 271.88,70.03 265.82,84.06" fill="#33f5cc"/><polygon points="283.69,87.59 289.75,73.56 286.87,70.36 280.81,71.79" fill="#33f5cc"/><polygon points="298.69,75.32 304.74,73.89 301.86,70.69 295.81,72.12" fill="#81f57e"/><polygon points="313.68,88.24 319.74,86.81 316.86,71.02 310.8,72.45" fill="#33f5cc"/><polygon points="328.67,88.57 334.73,72.45 331.85,65.05 325.79,85.37" fill="#33f5cc"/><polygon points="343.66,113.04 349.72,111.6 346.84,69.57 340.79,71.01" fill="#0aa7f5"/><polygon points="247.65,109.36 253.71,107.92 250.83,104.72 244.77,106.16" fill="#0a92f5"/><polygon points="262.64,109.68 268.7,87.26 265.82,84.06 259.76,106.48" fill="#0a92f5"/><polygon points="277.64,103.72 283.69,87.59 280.81,71.79 274.76,85.82" fill="#0abcf5"/><polygon points="292.63,89.35 298.69,75.32 295.81,72.12 289.75,73.56" fill="#33f5cc"/><polygon points="307.62,89.68 313.68,88.24 310.8,72.45 304.74,73.89" fill="#33f5cc"/><polygon points="322.61,90.01 328.67,88.57 325.79,85.37 319.74,86.81" fill="#33f5cc"/><polygon points="337.61,114.48 343.66,113.04 340.79,71.01 334.73,72.45" fill="#1ff5e0"/><polygon points="256.59,111.12 262.64,109.68 259.76,106.48 253.71,107.92" fill="#0a92f5"/><polygon points="271.58,105.15 277.64,103.72 274.76,85.82 268.7,87.26" fill="#0abcf5"/><polygon points="286.57,90.79 292.63,89.35 289.75,73.56 283.69,87.59" fill="#33f5cc"/><polygon points="301.56,91.12 307.62,89.68 304.74,73.89 298.69,75.32" fill="#33f5cc"/><polygon points="316.56,91.44 322.61,90.01 319.74,86.81 313.68,88.24" fill="#33f5cc"/><polygon points="331.55,97.02 337.61,114.48 334.73,72.45 328.67,88.57" fill="#11f5ee"/><polygon points="346.54,116.24 352.6,114.8 349.72,111.6 343.66,113.04" fill="#0a92f5"/><polygon points="250.53,112.56 256.59,111.12 253.71,107.92 247.65,109.36" fill="#0a92f5"/><polygon points="265.52,112.88 271.58,105.15 268.7,87.26 262.64,109.68" fill="#0a92f5"/><polygon points="280.51,116.36 286.57,90.79 283.69,87.59 277.64,103.72" fill="#0a7ef5"/><polygon points="295.51,92.55 301.56,91.12 298.69,75.32 292.63,89.35" fill="#33f5cc"/><polygon points="310.5,92.88 316.56,91.44 313.68,88.24 307.62,89.68" fill="#33f5cc"/><polygon points="325.49,93.21 331.55,97.02 328.67,88.57 322.61,90.01" fill="#33f5cc"/><polygon points="340.49,117.68 346.54,116.24 343.66,113.04 337.61,114.48" fill="#0ad8f5"/><polygon points="259.46,114.32 265.52,112.88 262.64,109.68 256.59,111.12" fill="#0a92f5"/><polygon points="274.46,117.8 280.51,116.36 277.64,103.72 271.58,105.15" fill="#0a7ef5"/><polygon points="289.45,93.99 295.51,92.55 292.63,89.35 286.57,90.79" fill="#33f5cc"/><polygon points="304.44,94.32 310.5,92.88 307.62,89.68 301.56,91.12" fill="#33f5cc"/><polygon points="319.44,94.64 325.49,93.21 322.61,90.01 316.56,91.44" fill="#33f5cc"/><polygon points="334.43,107.57 340.49,117.68 337.61,114.48 331.55,97.02" fill="#0acaf5"/><polygon points="253.41,115.76 259.46,114.32 256.59,111.12 250.53,112.56" fill="#0a92f5"/><polygon points="268.4,119.23 274.46,117.8 271.58,105.15 265.52,112.88" fill="#0a7ef5"/><polygon points="283.39,119.56 289.45,93.99 286.57,90.79 280.51,116.36" fill="#0a7ef5"/><polygon points="298.39,95.75 304.44,94.32 301.56,91.12 295.51,92.55" fill="#33f5cc"/><polygon points="313.38,96.08 319.44,94.64 316.56,91.44 310.5,92.88" fill="#33f5cc"/><polygon points="328.37,96.41 334.43,107.57 331.55,97.02 325.49,93.21" fill="#33f5cc"/><polygon points="262.34,120.67 268.4,119.23 265.52,112.88 259.46,114.32" fill="#0a7ef5"/><polygon points="277.34,121 283.39,119.56 280.51,116.36 274.46,117.8" fill="#0a7ef5"/><polygon points="292.33,97.19 298.39,95.75 295.51,92.55 289.45,93.99" fill="#33f5cc"/><polygon points="307.32,97.52 313.38,96.08 310.5,92.88 304.44,94.32" fill="#33f5cc"/><polygon points="322.31,97.84 328.37,96.41 325.49,93.21 319.44,94.64" fill="#33f5cc"/><polygon points="256.29,122.1 262.34,120.67 259.46,114.32 253.41,115.76" fill="#0a7ef5"/><polygon points="271.28,122.43 277.34,121 274.46,117.8 268.4,119.23" fill="#0a7ef5"/><polygon points="286.27,122.76 292.33,97.19 289.45,93.99 283.39,119.56" fill="#0a7ef5"/><polygon points="301.26,98.95 307.32,97.52 304.44,94.32 298.39,95.75" fill="#33f5cc"/><polygon points="316.26,99.28 322.31,97.84 319.44,94.64 313.38,96.08" fill="#33f5cc"/><polygon points="265.22,123.87 271.28,122.43 268.4,119.23 262.34,120.67" fill="#0a7ef5"/><polygon points="280.21,124.2 286.27,122.76 283.39,119.56 277.34,121" fill="#0a7ef5"/><polygon points="295.21,100.39 301.26,98.95 298.39,95.75 292.33,97.19" fill="#33f5cc"/><polygon points="310.2,100.72 316.26,99.28 313.38,96.08 307.32,97.52" fill="#33f5cc"/><polygon points="259.16,125.3 265.22,123.87 262.34,120.67 256.29,122.1" fill="#0a7ef5"/><polygon points="274.16,125.63 280.21,124.2 277.34,121 271.28,122.43" fill="#0a7ef5"/><polygon points="289.15,125.96 295.21,100.39 292.33,97.19 286.27,122.76" fill="#0a7ef5"/><polygon points="304.14,102.15 310.2,100.72 307.32,97.52 301.26,98.95" fill="#33f5cc"/><polygon points="268.1,127.07 274.16,125.63 271.28,122.43 265.22,123.87" fill="#0a7ef5"/><polygon points="283.09,127.4 289.15,125.96 286.27,122.76 280.21,124.2" fill="#0a7ef5"/><polygon points="298.09,103.59 304.14,102.15 301.26,98.95 295.21,100.39" fill="#33f5cc"/><polygon points="262.04,128.5 268.1,127.07 265.22,123.87 259.16,125.3" fill="#0a7ef5"/><polygon points="277.04,128.83 283.09,127.4 280.21,124.2 274.16,125.63" fill="#0a7ef5"/><polygon points="292.03,129.16 298.09,103.59 295.21,100.39 289.15,125.96" fill="#0a7ef5"/><polygon points="270.98,130.27 277.04,128.83 274.16,125.63 268.1,127.07" fill="#0a7ef5"/><polygon points="285.97,130.6 292.03,129.16 289.15,125.96 283.09,127.4" fill="#0a7ef5"/><polygon points="264.92,131.7 270.98,130.27 268.1,127.07 262.04,128.5" fill="#0a7ef5"/><polygon points="279.91,132.03 285.97,130.6 283.09,127.4 277.04,128.83" fill="#0a7ef5"/><polygon points="273.86,133.47 279.91,132.03 277.04,128.83 270.98,130.27" fill="#0a7ef5"/><polygon points="267.8,140.15 273.86,133.47 270.98,130.27 264.92,131.7" fill="#0a5cf5"/></g>
<g stroke="#444" stroke-width="0.55"><line x1="267.8" y1="143.3" x2="352.6" y2="123.2"/><line x1="267.8" y1="143.3" x2="227.5" y2="98.5"/><line x1="227.5" y1="98.5" x2="227.5" y2="28.5"/><line x1="267.8" y1="143.3" x2="269" y2="144.64"/><line x1="284.76" y1="139.28" x2="285.96" y2="140.62"/><line x1="301.72" y1="135.26" x2="302.92" y2="136.6"/><line x1="318.68" y1="131.24" x2="319.88" y2="132.58"/><line x1="335.64" y1="127.22" x2="336.84" y2="128.56"/><line x1="352.6" y1="123.2" x2="353.8" y2="124.54"/><line x1="267.8" y1="143.3" x2="266.05" y2="143.72"/><line x1="247.65" y1="120.9" x2="245.9" y2="121.32"/><line x1="227.5" y1="98.5" x2="225.75" y2="98.92"/><line x1="227.5" y1="86.96" x2="226.3" y2="85.62"/><line x1="227.5" y1="76.46" x2="226.3" y2="75.12"/><line x1="227.5" y1="65.97" x2="226.3" y2="64.63"/><line x1="227.5" y1="55.47" x2="226.3" y2="54.13"/><line x1="227.5" y1="44.98" x2="226.3" y2="43.64"/><line x1="227.5" y1="34.48" x2="226.3" y2="33.14"/></g>
<g font-family="Liberation Sans, sans-serif" font-size="6.2" fill="#555"><text transform="translate(223.9,88.56) scale(0.89,1)" text-anchor="end">0.3</text><text transform="translate(223.9,78.06) scale(0.89,1)" text-anchor="end">0.4</text><text transform="translate(223.9,67.57) scale(0.89,1)" text-anchor="end">0.5</text><text transform="translate(223.9,57.07) scale(0.89,1)" text-anchor="end">0.6</text><text transform="translate(223.9,46.58) scale(0.89,1)" text-anchor="end">0.7</text><text transform="translate(223.9,36.08) scale(0.89,1)" text-anchor="end">0.8</text><text transform="translate(263.5,150.5) scale(0.89,1)" text-anchor="end">0</text><text transform="translate(243.35,128.1) scale(0.89,1)" text-anchor="end">0.5</text><text transform="translate(223.2,105.7) scale(0.89,1)" text-anchor="end">1</text><text transform="translate(274.8,152.7) scale(0.89,1)" text-anchor="middle">0</text><text transform="translate(291.76,148.68) scale(0.89,1)" text-anchor="middle">0.2</text><text transform="translate(308.72,144.66) scale(0.89,1)" text-anchor="middle">0.4</text><text transform="translate(325.68,140.64) scale(0.89,1)" text-anchor="middle">0.6</text><text transform="translate(342.64,136.62) scale(0.89,1)" text-anchor="middle">0.8</text><text transform="translate(359.6,132.6) scale(0.89,1)" text-anchor="middle">1</text></g>
<g font-family="Liberation Sans, sans-serif" font-weight="bold" font-size="7" fill="#111"><text transform="translate(213.1,62.3) rotate(-90) scale(0.89,1)" text-anchor="middle">Smart-City-Index</text><text transform="translate(222.85,150.3) scale(0.89,1)" text-anchor="middle">Waste-Management</text><text transform="translate(325.5,155.7) scale(0.89,1)" text-anchor="middle">Utility-Management</text></g>
<rect x="375" y="5.5" width="169" height="155.5" fill="#f0f0f0"/>
<polygon points="398.6,110 456.8,144.7 532.6,118.6 532.6,46.1 474.4,11.4 398.6,37.5" fill="#fff"/>
<g stroke="#e4e4e4" stroke-width="0.5"><line x1="456.8" y1="144.7" x2="398.6" y2="110"/><line x1="398.6" y1="110" x2="398.6" y2="37.5"/><line x1="494.7" y1="131.65" x2="436.5" y2="96.95"/><line x1="436.5" y1="96.95" x2="436.5" y2="24.45"/><line x1="532.6" y1="118.6" x2="474.4" y2="83.9"/><line x1="474.4" y1="83.9" x2="474.4" y2="11.4"/><line x1="456.8" y1="144.7" x2="532.6" y2="118.6"/><line x1="532.6" y1="118.6" x2="532.6" y2="46.1"/><line x1="427.7" y1="127.35" x2="503.5" y2="101.25"/><line x1="503.5" y1="101.25" x2="503.5" y2="28.75"/><line x1="398.6" y1="110" x2="474.4" y2="83.9"/><line x1="474.4" y1="83.9" x2="474.4" y2="11.4"/><line x1="398.6" y1="98.55" x2="474.4" y2="72.45"/><line x1="474.4" y1="72.45" x2="532.6" y2="107.15"/><line x1="398.6" y1="87.65" x2="474.4" y2="61.55"/><line x1="474.4" y1="61.55" x2="532.6" y2="96.25"/><line x1="398.6" y1="76.75" x2="474.4" y2="50.65"/><line x1="474.4" y1="50.65" x2="532.6" y2="85.35"/><line x1="398.6" y1="65.85" x2="474.4" y2="39.75"/><line x1="474.4" y1="39.75" x2="532.6" y2="74.45"/><line x1="398.6" y1="54.94" x2="474.4" y2="28.84"/><line x1="474.4" y1="28.84" x2="532.6" y2="63.54"/><line x1="398.6" y1="44.04" x2="474.4" y2="17.94"/><line x1="474.4" y1="17.94" x2="532.6" y2="52.64"/></g>
<g stroke="#808080" stroke-width="0.8"><line x1="398.6" y1="37.5" x2="474.4" y2="11.4"/><line x1="474.4" y1="11.4" x2="532.6" y2="46.1"/><line x1="532.6" y1="46.1" x2="532.6" y2="118.6"/><line x1="474.4" y1="83.9" x2="474.4" y2="11.4"/><line x1="398.6" y1="110" x2="474.4" y2="83.9"/><line x1="474.4" y1="83.9" x2="532.6" y2="118.6"/></g>
<g stroke="#0a0a0a" stroke-width="0.5" stroke-linejoin="round"><polygon points="473.14,15.74 478.56,13.88 474.4,11.4 468.99,13.26" fill="#f5f50a"/><polygon points="467.73,24.15 473.14,15.74 468.99,13.26 463.57,24.94" fill="#d9f526"/><polygon points="477.3,35.67 482.71,55.61 478.56,13.88 473.14,15.74" fill="#9cf563"/><polygon points="462.31,29.28 467.73,24.15 463.57,24.94 458.16,26.8" fill="#ccf533"/><polygon points="471.89,37.53 477.3,35.67 473.14,15.74 467.73,24.15" fill="#9cf563"/><polygon points="481.46,38.14 486.87,58.08 482.71,55.61 477.3,35.67" fill="#9cf563"/><polygon points="456.9,31.15 462.31,29.28 458.16,26.8 452.74,28.67" fill="#ccf533"/><polygon points="466.47,39.39 471.89,37.53 467.73,24.15 462.31,29.28" fill="#9cf563"/><polygon points="476.04,40.01 481.46,38.14 477.3,35.67 471.89,37.53" fill="#9cf563"/><polygon points="485.61,40.62 491.03,60.56 486.87,58.08 481.46,38.14" fill="#9cf563"/><polygon points="451.49,33.01 456.9,31.15 452.74,28.67 447.33,30.53" fill="#ccf533"/><polygon points="461.06,41.26 466.47,39.39 462.31,29.28 456.9,31.15" fill="#9cf563"/><polygon points="470.63,41.87 476.04,40.01 471.89,37.53 466.47,39.39" fill="#9cf563"/><polygon points="480.2,42.49 485.61,40.62 481.46,38.14 476.04,40.01" fill="#9cf563"/><polygon points="446.07,34.88 451.49,33.01 447.33,30.53 441.91,32.4" fill="#ccf533"/><polygon points="489.77,43.1 495.19,63.04 491.03,60.56 485.61,40.62" fill="#9cf563"/><polygon points="455.64,43.12 461.06,41.26 456.9,31.15 451.49,33.01" fill="#9cf563"/><polygon points="465.21,43.74 470.63,41.87 466.47,39.39 461.06,41.26" fill="#9cf563"/><polygon points="474.79,44.35 480.2,42.49 476.04,40.01 470.63,41.87" fill="#9cf563"/><polygon points="440.66,36.74 446.07,34.88 441.91,32.4 436.5,34.26" fill="#ccf533"/><polygon points="484.36,44.97 489.77,43.1 485.61,40.62 480.2,42.49" fill="#9cf563"/><polygon points="450.23,44.99 455.64,43.12 451.49,33.01 446.07,34.88" fill="#9cf563"/><polygon points="493.93,45.58 499.34,65.52 495.19,63.04 489.77,43.1" fill="#9cf563"/><polygon points="459.8,45.6 465.21,43.74 461.06,41.26 455.64,43.12" fill="#9cf563"/><polygon points="469.37,46.22 474.79,44.35 470.63,41.87 465.21,43.74" fill="#9cf563"/><polygon points="435.24,38.6 440.66,36.74 436.5,34.26 431.09,36.13" fill="#ccf533"/><polygon points="478.94,46.83 484.36,44.97 480.2,42.49 474.79,44.35" fill="#9cf563"/><polygon points="444.81,46.85 450.23,44.99 446.07,34.88 440.66,36.74" fill="#9cf563"/><polygon points="488.51,47.44 493.93,45.58 489.77,43.1 484.36,44.97" fill="#9cf563"/><polygon points="454.39,47.47 459.8,45.6 455.64,43.12 450.23,44.99" fill="#9cf563"/><polygon points="498.09,48.06 503.5,68 499.34,65.52 493.93,45.58" fill="#9cf563"/><polygon points="463.96,48.08 469.37,46.22 465.21,43.74 459.8,45.6" fill="#9cf563"/><polygon points="429.83,63.36 435.24,38.6 431.09,36.13 425.67,60.89" fill="#57f5a8"/><polygon points="473.53,48.69 478.94,46.83 474.79,44.35 469.37,46.22" fill="#9cf563"/><polygon points="439.4,48.72 444.81,46.85 440.66,36.74 435.24,38.6" fill="#9cf563"/><polygon points="483.1,49.31 488.51,47.44 484.36,44.97 478.94,46.83" fill="#9cf563"/><polygon points="448.97,49.33 454.39,47.47 450.23,44.99 444.81,46.85" fill="#9cf563"/><polygon points="492.67,49.92 498.09,48.06 493.93,45.58 488.51,47.44" fill="#9cf563"/><polygon points="458.54,49.94 463.96,48.08 459.8,45.6 454.39,47.47" fill="#9cf563"/><polygon points="424.41,65.23 429.83,63.36 425.67,60.89 420.26,62.75" fill="#57f5a8"/><polygon points="502.24,50.54 507.66,70.48 503.5,68 498.09,48.06" fill="#9cf563"/><polygon points="468.11,50.56 473.53,48.69 469.37,46.22 463.96,48.08" fill="#9cf563"/><polygon points="433.99,77.83 439.4,48.72 435.24,38.6 429.83,63.36" fill="#0ef5f1"/><polygon points="477.69,51.17 483.1,49.31 478.94,46.83 473.53,48.69" fill="#9cf563"/><polygon points="443.56,51.19 448.97,49.33 444.81,46.85 439.4,48.72" fill="#9cf563"/><polygon points="487.26,51.79 492.67,49.92 488.51,47.44 483.1,49.31" fill="#9cf563"/><polygon points="453.13,51.81 458.54,49.94 454.39,47.47 448.97,49.33" fill="#9cf563"/><polygon points="419,67.09 424.41,65.23 420.26,62.75 414.84,64.61" fill="#57f5a8"/><polygon points="496.83,52.4 502.24,50.54 498.09,48.06 492.67,49.92" fill="#9cf563"/><polygon points="462.7,52.42 468.11,50.56 463.96,48.08 458.54,49.94" fill="#9cf563"/><polygon points="428.57,79.7 433.99,77.83 429.83,63.36 424.41,65.23" fill="#0ef5f1"/><polygon points="506.4,53.02 511.81,72.96 507.66,70.48 502.24,50.54" fill="#9cf563"/><polygon points="472.27,53.04 477.69,51.17 473.53,48.69 468.11,50.56" fill="#9cf563"/><polygon points="438.14,89.04 443.56,51.19 439.4,48.72 433.99,77.83" fill="#0ac0f5"/><polygon points="481.84,53.65 487.26,51.79 483.1,49.31 477.69,51.17" fill="#9cf563"/><polygon points="447.71,53.67 453.13,51.81 448.97,49.33 443.56,51.19" fill="#9cf563"/><polygon points="413.59,68.96 419,67.09 414.84,64.61 409.43,66.48" fill="#57f5a8"/><polygon points="491.41,54.27 496.83,52.4 492.67,49.92 487.26,51.79" fill="#9cf563"/><polygon points="457.29,54.29 462.7,52.42 458.54,49.94 453.13,51.81" fill="#9cf563"/><polygon points="423.16,81.56 428.57,79.7 424.41,65.23 419,67.09" fill="#0ef5f1"/><polygon points="500.99,54.88 506.4,53.02 502.24,50.54 496.83,52.4" fill="#9cf563"/><polygon points="466.86,54.9 472.27,53.04 468.11,50.56 462.7,52.42" fill="#9cf563"/><polygon points="432.73,90.9 438.14,89.04 433.99,77.83 428.57,79.7" fill="#0ac0f5"/><polygon points="510.56,55.49 515.97,75.43 511.81,72.96 506.4,53.02" fill="#9cf563"/><polygon points="476.43,55.52 481.84,53.65 477.69,51.17 472.27,53.04" fill="#9cf563"/><polygon points="442.3,103.51 447.71,53.67 443.56,51.19 438.14,89.04" fill="#0a88f5"/><polygon points="408.17,78.45 413.59,68.96 409.43,66.48 404.01,75.97" fill="#29f5d6"/><polygon points="486,56.13 491.41,54.27 487.26,51.79 481.84,53.65" fill="#9cf563"/><polygon points="451.87,56.15 457.29,54.29 453.13,51.81 447.71,53.67" fill="#9cf563"/><polygon points="417.74,83.43 423.16,81.56 419,67.09 413.59,68.96" fill="#0ef5f1"/><polygon points="495.57,56.74 500.99,54.88 496.83,52.4 491.41,54.27" fill="#9cf563"/><polygon points="461.44,56.77 466.86,54.9 462.7,52.42 457.29,54.29" fill="#9cf563"/><polygon points="427.31,92.76 432.73,90.9 428.57,79.7 423.16,81.56" fill="#0ac0f5"/><polygon points="505.14,57.36 510.56,55.49 506.4,53.02 500.99,54.88" fill="#9cf563"/><polygon points="471.01,57.38 476.43,55.52 472.27,53.04 466.86,54.9" fill="#9cf563"/><polygon points="436.89,101.01 442.3,103.51 438.14,89.04 432.73,90.9" fill="#0a8ff5"/><polygon points="402.76,80.32 408.17,78.45 404.01,75.97 398.6,77.84" fill="#29f5d6"/><polygon points="514.71,57.97 520.13,77.91 515.97,75.43 510.56,55.49" fill="#9cf563"/><polygon points="480.59,57.99 486,56.13 481.84,53.65 476.43,55.52" fill="#9cf563"/><polygon points="446.46,105.98 451.87,56.15 447.71,53.67 442.3,103.51" fill="#0a88f5"/><polygon points="412.33,85.29 417.74,83.43 413.59,68.96 408.17,78.45" fill="#0ef5f1"/><polygon points="490.16,58.61 495.57,56.74 491.41,54.27 486,56.13" fill="#9cf563"/><polygon points="456.03,58.63 461.44,56.77 457.29,54.29 451.87,56.15" fill="#9cf563"/><polygon points="421.9,94.63 427.31,92.76 423.16,81.56 417.74,83.43" fill="#0ac0f5"/><polygon points="499.73,59.22 505.14,57.36 500.99,54.88 495.57,56.74" fill="#9cf563"/><polygon points="465.6,59.24 471.01,57.38 466.86,54.9 461.44,56.77" fill="#9cf563"/><polygon points="431.47,102.87 436.89,101.01 432.73,90.9 427.31,92.76" fill="#0a8ff5"/><polygon points="509.3,59.84 514.71,57.97 510.56,55.49 505.14,57.36" fill="#9cf563"/><polygon points="475.17,59.86 480.59,57.99 476.43,55.52 471.01,57.38" fill="#9cf563"/><polygon points="441.04,107.85 446.46,105.98 442.3,103.51 436.89,101.01" fill="#0a88f5"/><polygon points="406.91,87.16 412.33,85.29 408.17,78.45 402.76,80.32" fill="#0ef5f1"/><polygon points="518.87,60.45 524.29,80.39 520.13,77.91 514.71,57.97" fill="#9cf563"/><polygon points="484.74,60.47 490.16,58.61 486,56.13 480.59,57.99" fill="#9cf563"/><polygon points="450.61,108.46 456.03,58.63 451.87,56.15 446.46,105.98" fill="#0a88f5"/><polygon points="416.49,96.49 421.9,94.63 417.74,83.43 412.33,85.29" fill="#0ac0f5"/><polygon points="494.31,61.09 499.73,59.22 495.57,56.74 490.16,58.61" fill="#9cf563"/><polygon points="460.19,61.11 465.6,59.24 461.44,56.77 456.03,58.63" fill="#9cf563"/><polygon points="426.06,104.74 431.47,102.87 427.31,92.76 421.9,94.63" fill="#0a8ff5"/><polygon points="503.89,61.7 509.3,59.84 505.14,57.36 499.73,59.22" fill="#9cf563"/><polygon points="469.76,61.72 475.17,59.86 471.01,57.38 465.6,59.24" fill="#9cf563"/><polygon points="435.63,109.71 441.04,107.85 436.89,101.01 431.47,102.87" fill="#0a88f5"/><polygon points="513.46,62.32 518.87,60.45 514.71,57.97 509.3,59.84" fill="#9cf563"/><polygon points="479.33,62.34 484.74,60.47 480.59,57.99 475.17,59.86" fill="#9cf563"/><polygon points="445.2,110.33 450.61,108.46 446.46,105.98 441.04,107.85" fill="#0a88f5"/><polygon points="411.07,105.99 416.49,96.49 412.33,85.29 406.91,87.16" fill="#0a8ff5"/><polygon points="523.03,105.45 528.44,103.58 524.29,80.39 518.87,60.45" fill="#23f5dc"/><polygon points="488.9,62.95 494.31,61.09 490.16,58.61 484.74,60.47" fill="#9cf563"/><polygon points="454.77,110.94 460.19,61.11 456.03,58.63 450.61,108.46" fill="#0a88f5"/><polygon points="420.64,106.6 426.06,104.74 421.9,94.63 416.49,96.49" fill="#0a8ff5"/><polygon points="498.47,63.57 503.89,61.7 499.73,59.22 494.31,61.09" fill="#9cf563"/><polygon points="464.34,63.59 469.76,61.72 465.6,59.24 460.19,61.11" fill="#9cf563"/><polygon points="430.21,111.58 435.63,109.71 431.47,102.87 426.06,104.74" fill="#0a88f5"/><polygon points="508.04,64.18 513.46,62.32 509.3,59.84 503.89,61.7" fill="#9cf563"/><polygon points="473.91,64.2 479.33,62.34 475.17,59.86 469.76,61.72" fill="#9cf563"/><polygon points="439.79,112.19 445.2,110.33 441.04,107.85 435.63,109.71" fill="#0a88f5"/><polygon points="517.61,107.31 523.03,105.45 518.87,60.45 513.46,62.32" fill="#0a96f5"/><polygon points="483.49,64.82 488.9,62.95 484.74,60.47 479.33,62.34" fill="#9cf563"/><polygon points="449.36,112.81 454.77,110.94 450.61,108.46 445.2,110.33" fill="#0a88f5"/><polygon points="415.23,108.47 420.64,106.6 416.49,96.49 411.07,105.99" fill="#0a8ff5"/><polygon points="527.19,119.92 532.6,118.05 528.44,103.58 523.03,105.45" fill="#0a5ff5"/><polygon points="493.06,65.43 498.47,63.57 494.31,61.09 488.9,62.95" fill="#9cf563"/><polygon points="458.93,113.42 464.34,63.59 460.19,61.11 454.77,110.94" fill="#0a88f5"/><polygon points="424.8,113.44 430.21,111.58 426.06,104.74 420.64,106.6" fill="#0a88f5"/><polygon points="502.63,66.04 508.04,64.18 503.89,61.7 498.47,63.57" fill="#9cf563"/><polygon points="468.5,66.07 473.91,64.2 469.76,61.72 464.34,63.59" fill="#9cf563"/><polygon points="434.37,114.06 439.79,112.19 435.63,109.71 430.21,111.58" fill="#0a88f5"/><polygon points="512.2,109.18 517.61,107.31 513.46,62.32 508.04,64.18" fill="#0a96f5"/><polygon points="478.07,66.68 483.49,64.82 479.33,62.34 473.91,64.2" fill="#9cf563"/><polygon points="443.94,114.67 449.36,112.81 445.2,110.33 439.79,112.19" fill="#0a88f5"/><polygon points="521.77,121.78 527.19,119.92 523.03,105.45 517.61,107.31" fill="#0a5ff5"/><polygon points="487.64,67.29 493.06,65.43 488.9,62.95 483.49,64.82" fill="#9cf563"/><polygon points="453.51,115.28 458.93,113.42 454.77,110.94 449.36,112.81" fill="#0a88f5"/><polygon points="419.39,110.95 424.8,113.44 420.64,106.6 415.23,108.47" fill="#0a8ff5"/><polygon points="497.21,67.91 502.63,66.04 498.47,63.57 493.06,65.43" fill="#9cf563"/><polygon points="463.09,115.9 468.5,66.07 464.34,63.59 458.93,113.42" fill="#0a88f5"/><polygon points="428.96,115.92 434.37,114.06 430.21,111.58 424.8,113.44" fill="#0a88f5"/><polygon points="506.79,111.04 512.2,109.18 508.04,64.18 502.63,66.04" fill="#0a96f5"/><polygon points="472.66,68.54 478.07,66.68 473.91,64.2 468.5,66.07" fill="#9cf563"/><polygon points="438.53,116.53 443.94,114.67 439.79,112.19 434.37,114.06" fill="#0a88f5"/><polygon points="516.36,123.65 521.77,121.78 517.61,107.31 512.2,109.18" fill="#0a5ff5"/><polygon points="482.23,69.16 487.64,67.29 483.49,64.82 478.07,66.68" fill="#9cf563"/><polygon points="448.1,117.15 453.51,115.28 449.36,112.81 443.94,114.67" fill="#0a88f5"/><polygon points="491.8,69.77 497.21,67.91 493.06,65.43 487.64,67.29" fill="#9cf563"/><polygon points="457.67,117.76 463.09,115.9 458.93,113.42 453.51,115.28" fill="#0a88f5"/><polygon points="423.54,113.42 428.96,115.92 424.8,113.44 419.39,110.95" fill="#0a8ff5"/><polygon points="501.37,112.91 506.79,111.04 502.63,66.04 497.21,67.91" fill="#0a96f5"/><polygon points="467.24,86.76 472.66,68.54 468.5,66.07 463.09,115.9" fill="#0aa4f5"/><polygon points="433.11,118.4 438.53,116.53 434.37,114.06 428.96,115.92" fill="#0a88f5"/><polygon points="510.94,125.51 516.36,123.65 512.2,109.18 506.79,111.04" fill="#0a5ff5"/><polygon points="476.81,71.02 482.23,69.16 478.07,66.68 472.66,68.54" fill="#9cf563"/><polygon points="442.69,119.01 448.1,117.15 443.94,114.67 438.53,116.53" fill="#0a88f5"/><polygon points="486.39,71.64 491.8,69.77 487.64,67.29 482.23,69.16" fill="#9cf563"/><polygon points="452.26,119.63 457.67,117.76 453.51,115.28 448.1,117.15" fill="#0a88f5"/><polygon points="495.96,114.77 501.37,112.91 497.21,67.91 491.8,69.77" fill="#0a96f5"/><polygon points="461.83,99.53 467.24,86.76 463.09,115.9 457.67,117.76" fill="#0aa4f5"/><polygon points="427.7,115.9 433.11,118.4 428.96,115.92 423.54,113.42" fill="#0a8ff5"/><polygon points="505.53,127.38 510.94,125.51 506.79,111.04 501.37,112.91" fill="#0a5ff5"/><polygon points="471.4,89.24 476.81,71.02 472.66,68.54 467.24,86.76" fill="#0aa4f5"/><polygon points="437.27,120.88 442.69,119.01 438.53,116.53 433.11,118.4" fill="#0a88f5"/><polygon points="480.97,73.5 486.39,71.64 482.23,69.16 476.81,71.02" fill="#9cf563"/><polygon points="446.84,121.49 452.26,119.63 448.1,117.15 442.69,119.01" fill="#0a88f5"/><polygon points="490.54,116.63 495.96,114.77 491.8,69.77 486.39,71.64" fill="#0a96f5"/><polygon points="456.41,101.39 461.83,99.53 457.67,117.76 452.26,119.63" fill="#0aa4f5"/><polygon points="500.11,129.24 505.53,127.38 501.37,112.91 495.96,114.77" fill="#0a5ff5"/><polygon points="465.99,102.01 471.4,89.24 467.24,86.76 461.83,99.53" fill="#0aa4f5"/><polygon points="431.86,118.38 437.27,120.88 433.11,118.4 427.7,115.9" fill="#0a8ff5"/><polygon points="475.56,91.72 480.97,73.5 476.81,71.02 471.4,89.24" fill="#0aa4f5"/><polygon points="441.43,123.36 446.84,121.49 442.69,119.01 437.27,120.88" fill="#0a88f5"/><polygon points="485.13,118.5 490.54,116.63 486.39,71.64 480.97,73.5" fill="#0a96f5"/><polygon points="451,123.97 456.41,101.39 452.26,119.63 446.84,121.49" fill="#0a88f5"/><polygon points="494.7,131.1 500.11,129.24 495.96,114.77 490.54,116.63" fill="#0a5ff5"/><polygon points="460.57,103.87 465.99,102.01 461.83,99.53 456.41,101.39" fill="#0aa4f5"/><polygon points="470.14,104.48 475.56,91.72 471.4,89.24 465.99,102.01" fill="#0aa4f5"/><polygon points="436.01,120.86 441.43,123.36 437.27,120.88 431.86,118.38" fill="#0a8ff5"/><polygon points="479.71,120.36 485.13,118.5 480.97,73.5 475.56,91.72" fill="#0a96f5"/><polygon points="445.59,125.83 451,123.97 446.84,121.49 441.43,123.36" fill="#0a88f5"/><polygon points="489.29,132.97 494.7,131.1 490.54,116.63 485.13,118.5" fill="#0a5ff5"/><polygon points="455.16,126.45 460.57,103.87 456.41,101.39 451,123.97" fill="#0a88f5"/><polygon points="464.73,106.35 470.14,104.48 465.99,102.01 460.57,103.87" fill="#0aa4f5"/><polygon points="474.3,122.23 479.71,120.36 475.56,91.72 470.14,104.48" fill="#0a96f5"/><polygon points="440.17,123.34 445.59,125.83 441.43,123.36 436.01,120.86" fill="#0a8ff5"/><polygon points="483.87,134.83 489.29,132.97 485.13,118.5 479.71,120.36" fill="#0a5ff5"/><polygon points="449.74,128.31 455.16,126.45 451,123.97 445.59,125.83" fill="#0a88f5"/><polygon points="459.31,128.93 464.73,106.35 460.57,103.87 455.16,126.45" fill="#0a88f5"/><polygon points="468.89,124.09 474.3,122.23 470.14,104.48 464.73,106.35" fill="#0a96f5"/><polygon points="478.46,136.7 483.87,134.83 479.71,120.36 474.3,122.23" fill="#0a5ff5"/><polygon points="444.33,125.82 449.74,128.31 445.59,125.83 440.17,123.34" fill="#0a8ff5"/><polygon points="453.9,130.79 459.31,128.93 455.16,126.45 449.74,128.31" fill="#0a88f5"/><polygon points="463.47,125.96 468.89,124.09 464.73,106.35 459.31,128.93" fill="#0a96f5"/><polygon points="473.04,138.56 478.46,136.7 474.3,122.23 468.89,124.09" fill="#0a5ff5"/><polygon points="448.49,128.3 453.9,130.79 449.74,128.31 444.33,125.82" fill="#0a8ff5"/><polygon points="458.06,127.82 463.47,125.96 459.31,128.93 453.9,130.79" fill="#0a96f5"/><polygon points="467.63,140.43 473.04,138.56 468.89,124.09 463.47,125.96" fill="#0a5ff5"/><polygon points="452.64,129.68 458.06,127.82 453.9,130.79 448.49,128.3" fill="#0a96f5"/><polygon points="462.21,142.29 467.63,140.43 463.47,125.96 458.06,127.82" fill="#0a5ff5"/><polygon points="456.8,144.15 462.21,142.29 458.06,127.82 452.64,129.68" fill="#0a5ff5"/></g>
<g stroke="#444" stroke-width="0.55"><line x1="456.8" y1="144.7" x2="532.6" y2="118.6"/><line x1="456.8" y1="144.7" x2="398.6" y2="110"/><line x1="398.6" y1="110" x2="398.6" y2="37.5"/><line x1="456.8" y1="144.7" x2="458.35" y2="145.62"/><line x1="494.7" y1="131.65" x2="496.25" y2="132.57"/><line x1="532.6" y1="118.6" x2="534.15" y2="119.52"/><line x1="456.8" y1="144.7" x2="455.1" y2="145.29"/><line x1="427.7" y1="127.35" x2="426" y2="127.94"/><line x1="398.6" y1="110" x2="396.9" y2="110.59"/><line x1="398.6" y1="98.55" x2="397.05" y2="97.63"/><line x1="398.6" y1="87.65" x2="397.05" y2="86.73"/><line x1="398.6" y1="76.75" x2="397.05" y2="75.83"/><line x1="398.6" y1="65.85" x2="397.05" y2="64.92"/><line x1="398.6" y1="54.94" x2="397.05" y2="54.02"/><line x1="398.6" y1="44.04" x2="397.05" y2="43.12"/></g>
<g font-family="Liberation Sans, sans-serif" font-size="6.2" fill="#555"><text transform="translate(395,100.15) scale(0.89,1)" text-anchor="end">0.3</text><text transform="translate(395,89.25) scale(0.89,1)" text-anchor="end">0.4</text><text transform="translate(395,78.35) scale(0.89,1)" text-anchor="end">0.5</text><text transform="translate(395,67.45) scale(0.89,1)" text-anchor="end">0.6</text><text transform="translate(395,56.54) scale(0.89,1)" text-anchor="end">0.7</text><text transform="translate(395,45.64) scale(0.89,1)" text-anchor="end">0.8</text><text transform="translate(452.5,151.9) scale(0.89,1)" text-anchor="end">0</text><text transform="translate(423.4,134.55) scale(0.89,1)" text-anchor="end">0.5</text><text transform="translate(394.3,117.2) scale(0.89,1)" text-anchor="end">1</text><text transform="translate(463.8,154.1) scale(0.89,1)" text-anchor="middle">0</text><text transform="translate(501.7,141.05) scale(0.89,1)" text-anchor="middle">0.5</text><text transform="translate(539.6,128) scale(0.89,1)" text-anchor="middle">1</text></g>
<g font-family="Liberation Sans, sans-serif" font-weight="bold" font-size="7" fill="#111"><text transform="translate(383.6,61) rotate(-90) scale(0.89,1)" text-anchor="middle">Smart-City-Index</text><text transform="translate(409.3,154.1) scale(0.89,1)" text-anchor="middle">Healthcare-Facility</text><text transform="translate(503.3,156.3) scale(0.89,1)" text-anchor="middle">Governance</text></g>
<rect x="4" y="181.5" width="170" height="149.5" fill="#f0f0f0"/>
<polygon points="32.7,271.7 74,314.7 164.3,295.1 164.3,227.1 123,184.1 32.7,203.7" fill="#fff"/>
<g stroke="#e4e4e4" stroke-width="0.5"><line x1="74" y1="314.7" x2="32.7" y2="271.7"/><line x1="32.7" y1="271.7" x2="32.7" y2="203.7"/><line x1="92.06" y1="310.78" x2="50.76" y2="267.78"/><line x1="50.76" y1="267.78" x2="50.76" y2="199.78"/><line x1="110.12" y1="306.86" x2="68.82" y2="263.86"/><line x1="68.82" y1="263.86" x2="68.82" y2="195.86"/><line x1="128.18" y1="302.94" x2="86.88" y2="259.94"/><line x1="86.88" y1="259.94" x2="86.88" y2="191.94"/><line x1="146.24" y1="299.02" x2="104.94" y2="256.02"/><line x1="104.94" y1="256.02" x2="104.94" y2="188.02"/><line x1="164.3" y1="295.1" x2="123" y2="252.1"/><line x1="123" y1="252.1" x2="123" y2="184.1"/><line x1="74" y1="314.7" x2="164.3" y2="295.1"/><line x1="164.3" y1="295.1" x2="164.3" y2="227.1"/><line x1="53.35" y1="293.2" x2="143.65" y2="273.6"/><line x1="143.65" y1="273.6" x2="143.65" y2="205.6"/><line x1="32.7" y1="271.7" x2="123" y2="252.1"/><line x1="123" y1="252.1" x2="123" y2="184.1"/><line x1="32.7" y1="257.79" x2="123" y2="238.19"/><line x1="123" y1="238.19" x2="164.3" y2="281.19"/><line x1="32.7" y1="246.66" x2="123" y2="227.06"/><line x1="123" y1="227.06" x2="164.3" y2="270.06"/><line x1="32.7" y1="235.53" x2="123" y2="215.93"/><line x1="123" y1="215.93" x2="164.3" y2="258.93"/><line x1="32.7" y1="224.4" x2="123" y2="204.8"/><line x1="123" y1="204.8" x2="164.3" y2="247.8"/><line x1="32.7" y1="213.27" x2="123" y2="193.67"/><line x1="123" y1="193.67" x2="164.3" y2="236.67"/></g>
<g stroke="#808080" stroke-width="0.8"><line x1="32.7" y1="203.7" x2="123" y2="184.1"/><line x1="123" y1="184.1" x2="164.3" y2="227.1"/><line x1="164.3" y1="227.1" x2="164.3" y2="295.1"/><line x1="123" y1="252.1" x2="123" y2="184.1"/><line x1="32.7" y1="271.7" x2="123" y2="252.1"/><line x1="123" y1="252.1" x2="164.3" y2="295.1"/></g>
<g stroke="#0a0a0a" stroke-width="0.5" stroke-linejoin="round"><polygon points="119.5,189.24 125.95,187.84 123,184.77 116.55,186.17" fill="#f2f50d"/><polygon points="113.05,203.99 119.5,189.24 116.55,186.17 110.1,200.92" fill="#b6f549"/><polygon points="106.6,222.09 113.05,203.99 110.1,200.92 103.65,225.69" fill="#57f5a8"/><polygon points="122.45,192.31 128.9,190.91 125.95,187.84 119.5,189.24" fill="#f2f50d"/><polygon points="100.15,223.49 106.6,222.09 103.65,225.69 97.2,227.09" fill="#57f5a8"/><polygon points="116,207.07 122.45,192.31 119.5,189.24 113.05,203.99" fill="#b6f549"/><polygon points="93.7,224.89 100.15,223.49 97.2,227.09 90.75,228.49" fill="#57f5a8"/><polygon points="109.55,225.16 116,207.07 113.05,203.99 106.6,222.09" fill="#57f5a8"/><polygon points="125.4,195.38 131.85,193.98 128.9,190.91 122.45,192.31" fill="#f2f50d"/><polygon points="87.25,226.29 93.7,224.89 90.75,228.49 84.3,229.89" fill="#57f5a8"/><polygon points="103.1,226.56 109.55,225.16 106.6,222.09 100.15,223.49" fill="#57f5a8"/><polygon points="118.95,210.14 125.4,195.38 122.45,192.31 116,207.07" fill="#b6f549"/><polygon points="80.8,227.69 87.25,226.29 84.3,229.89 77.85,231.29" fill="#57f5a8"/><polygon points="96.65,227.96 103.1,226.56 100.15,223.49 93.7,224.89" fill="#57f5a8"/><polygon points="112.5,228.23 118.95,210.14 116,207.07 109.55,225.16" fill="#57f5a8"/><polygon points="128.35,198.45 134.8,197.05 131.85,193.98 125.4,195.38" fill="#f2f50d"/><polygon points="74.35,229.09 80.8,227.69 77.85,231.29 71.4,232.69" fill="#57f5a8"/><polygon points="90.2,229.36 96.65,227.96 93.7,224.89 87.25,226.29" fill="#57f5a8"/><polygon points="106.05,229.63 112.5,228.23 109.55,225.16 103.1,226.56" fill="#57f5a8"/><polygon points="121.9,213.21 128.35,198.45 125.4,195.38 118.95,210.14" fill="#b6f549"/><polygon points="67.9,230.49 74.35,229.09 71.4,232.69 64.95,234.09" fill="#57f5a8"/><polygon points="83.75,230.76 90.2,229.36 87.25,226.29 80.8,227.69" fill="#57f5a8"/><polygon points="99.6,231.03 106.05,229.63 103.1,226.56 96.65,227.96" fill="#57f5a8"/><polygon points="115.45,223.51 121.9,213.21 118.95,210.14 112.5,228.23" fill="#c0f53f"/><polygon points="131.3,201.52 137.75,200.12 134.8,197.05 128.35,198.45" fill="#f2f50d"/><polygon points="61.45,231.89 67.9,230.49 64.95,234.09 58.5,235.49" fill="#57f5a8"/><polygon points="77.3,232.16 83.75,230.76 80.8,227.69 74.35,229.09" fill="#57f5a8"/><polygon points="93.15,232.43 99.6,231.03 96.65,227.96 90.2,229.36" fill="#57f5a8"/><polygon points="109,224.91 115.45,223.51 112.5,228.23 106.05,229.63" fill="#c0f53f"/><polygon points="124.85,216.28 131.3,201.52 128.35,198.45 121.9,213.21" fill="#b6f549"/><polygon points="55,233.29 61.45,231.89 58.5,235.49 52.05,236.89" fill="#57f5a8"/><polygon points="70.85,233.56 77.3,232.16 74.35,229.09 67.9,230.49" fill="#57f5a8"/><polygon points="86.7,233.83 93.15,232.43 90.2,229.36 83.75,230.76" fill="#57f5a8"/><polygon points="102.55,226.31 109,224.91 106.05,229.63 99.6,231.03" fill="#c0f53f"/><polygon points="118.4,226.58 124.85,216.28 121.9,213.21 115.45,223.51" fill="#c0f53f"/><polygon points="134.25,204.6 140.7,203.2 137.75,200.12 131.3,201.52" fill="#f2f50d"/><polygon points="48.55,244.7 55,233.29 52.05,236.89 45.6,227.17" fill="#2cf5d3"/><polygon points="64.4,234.96 70.85,233.56 67.9,230.49 61.45,231.89" fill="#57f5a8"/><polygon points="80.25,235.23 86.7,233.83 83.75,230.76 77.3,232.16" fill="#57f5a8"/><polygon points="96.1,227.71 102.55,226.31 99.6,231.03 93.15,232.43" fill="#c0f53f"/><polygon points="111.95,227.98 118.4,226.58 115.45,223.51 109,224.91" fill="#c0f53f"/><polygon points="127.8,219.35 134.25,204.6 131.3,201.52 124.85,216.28" fill="#b6f549"/><polygon points="42.1,242.77 48.55,244.7 45.6,227.17 39.15,215.21" fill="#0ad2f5"/><polygon points="57.95,236.36 64.4,234.96 61.45,231.89 55,233.29" fill="#57f5a8"/><polygon points="73.8,236.63 80.25,235.23 77.3,232.16 70.85,233.56" fill="#57f5a8"/><polygon points="89.65,229.11 96.1,227.71 93.15,232.43 86.7,233.83" fill="#c0f53f"/><polygon points="105.5,229.38 111.95,227.98 109,224.91 102.55,226.31" fill="#c0f53f"/><polygon points="121.35,229.65 127.8,219.35 124.85,216.28 118.4,226.58" fill="#c0f53f"/><polygon points="35.65,274.21 42.1,242.77 39.15,215.21 32.7,219.95" fill="#0a8ef5"/><polygon points="137.2,207.67 143.65,206.27 140.7,203.2 134.25,204.6" fill="#f2f50d"/><polygon points="51.5,247.78 57.95,236.36 55,233.29 48.55,244.7" fill="#2cf5d3"/><polygon points="67.35,238.03 73.8,236.63 70.85,233.56 64.4,234.96" fill="#57f5a8"/><polygon points="83.2,230.51 89.65,229.11 86.7,233.83 80.25,235.23" fill="#c0f53f"/><polygon points="99.05,230.78 105.5,229.38 102.55,226.31 96.1,227.71" fill="#c0f53f"/><polygon points="114.9,231.05 121.35,229.65 118.4,226.58 111.95,227.98" fill="#c0f53f"/><polygon points="130.75,222.42 137.2,207.67 134.25,204.6 127.8,219.35" fill="#b6f549"/><polygon points="45.05,262.53 51.5,247.78 48.55,244.7 42.1,242.77" fill="#0ad2f5"/><polygon points="60.9,239.43 67.35,238.03 64.4,234.96 57.95,236.36" fill="#57f5a8"/><polygon points="76.75,231.91 83.2,230.51 80.25,235.23 73.8,236.63" fill="#c0f53f"/><polygon points="92.6,232.18 99.05,230.78 96.1,227.71 89.65,229.11" fill="#c0f53f"/><polygon points="108.45,232.45 114.9,231.05 111.95,227.98 105.5,229.38" fill="#c0f53f"/><polygon points="124.3,232.73 130.75,222.42 127.8,219.35 121.35,229.65" fill="#c0f53f"/><polygon points="38.6,277.29 45.05,262.53 42.1,242.77 35.65,274.21" fill="#0a8ef5"/><polygon points="140.15,210.74 146.6,209.34 143.65,206.27 137.2,207.67" fill="#f2f50d"/><polygon points="54.45,250.85 60.9,239.43 57.95,236.36 51.5,247.78" fill="#2cf5d3"/><polygon points="70.3,233.31 76.75,231.91 73.8,236.63 67.35,238.03" fill="#c0f53f"/><polygon points="86.15,233.58 92.6,232.18 89.65,229.11 83.2,230.51" fill="#c0f53f"/><polygon points="102,233.85 108.45,232.45 105.5,229.38 99.05,230.78" fill="#c0f53f"/><polygon points="117.85,234.13 124.3,232.73 121.35,229.65 114.9,231.05" fill="#c0f53f"/><polygon points="133.7,225.49 140.15,210.74 137.2,207.67 130.75,222.42" fill="#b6f549"/><polygon points="48,265.6 54.45,250.85 51.5,247.78 45.05,262.53" fill="#0ad2f5"/><polygon points="63.85,234.71 70.3,233.31 67.35,238.03 60.9,239.43" fill="#c0f53f"/><polygon points="79.7,234.98 86.15,233.58 83.2,230.51 76.75,231.91" fill="#c0f53f"/><polygon points="95.55,235.25 102,233.85 99.05,230.78 92.6,232.18" fill="#c0f53f"/><polygon points="111.4,235.53 117.85,234.13 114.9,231.05 108.45,232.45" fill="#c0f53f"/><polygon points="127.25,235.8 133.7,225.49 130.75,222.42 124.3,232.73" fill="#c0f53f"/><polygon points="41.55,280.36 48,265.6 45.05,262.53 38.6,277.29" fill="#0a8ef5"/><polygon points="143.1,213.81 149.55,212.41 146.6,209.34 140.15,210.74" fill="#f2f50d"/><polygon points="57.4,253.92 63.85,234.71 60.9,239.43 54.45,250.85" fill="#2cf5d3"/><polygon points="73.25,236.38 79.7,234.98 76.75,231.91 70.3,233.31" fill="#c0f53f"/><polygon points="89.1,236.65 95.55,235.25 92.6,232.18 86.15,233.58" fill="#c0f53f"/><polygon points="104.95,236.93 111.4,235.53 108.45,232.45 102,233.85" fill="#c0f53f"/><polygon points="120.8,237.2 127.25,235.8 124.3,232.73 117.85,234.13" fill="#c0f53f"/><polygon points="136.65,228.57 143.1,213.81 140.15,210.74 133.7,225.49" fill="#b6f549"/><polygon points="50.95,268.67 57.4,253.92 54.45,250.85 48,265.6" fill="#0ad2f5"/><polygon points="66.8,237.78 73.25,236.38 70.3,233.31 63.85,234.71" fill="#c0f53f"/><polygon points="82.65,238.05 89.1,236.65 86.15,233.58 79.7,234.98" fill="#c0f53f"/><polygon points="98.5,238.33 104.95,236.93 102,233.85 95.55,235.25" fill="#c0f53f"/><polygon points="114.35,238.6 120.8,237.2 117.85,234.13 111.4,235.53" fill="#c0f53f"/><polygon points="130.2,238.87 136.65,228.57 133.7,225.49 127.25,235.8" fill="#c0f53f"/><polygon points="44.5,283.43 50.95,268.67 48,265.6 41.55,280.36" fill="#0a8ef5"/><polygon points="146.05,216.88 152.5,215.48 149.55,212.41 143.1,213.81" fill="#f2f50d"/><polygon points="60.35,256.99 66.8,237.78 63.85,234.71 57.4,253.92" fill="#2cf5d3"/><polygon points="76.2,239.45 82.65,238.05 79.7,234.98 73.25,236.38" fill="#c0f53f"/><polygon points="92.05,239.73 98.5,238.33 95.55,235.25 89.1,236.65" fill="#c0f53f"/><polygon points="107.9,240 114.35,238.6 111.4,235.53 104.95,236.93" fill="#c0f53f"/><polygon points="123.75,240.27 130.2,238.87 127.25,235.8 120.8,237.2" fill="#c0f53f"/><polygon points="139.6,231.64 146.05,216.88 143.1,213.81 136.65,228.57" fill="#b6f549"/><polygon points="53.9,271.75 60.35,256.99 57.4,253.92 50.95,268.67" fill="#0ad2f5"/><polygon points="69.75,240.85 76.2,239.45 73.25,236.38 66.8,237.78" fill="#c0f53f"/><polygon points="85.6,241.13 92.05,239.73 89.1,236.65 82.65,238.05" fill="#c0f53f"/><polygon points="101.45,241.4 107.9,240 104.95,236.93 98.5,238.33" fill="#c0f53f"/><polygon points="117.3,241.67 123.75,240.27 120.8,237.2 114.35,238.6" fill="#c0f53f"/><polygon points="133.15,241.94 139.6,231.64 136.65,228.57 130.2,238.87" fill="#c0f53f"/><polygon points="47.45,286.5 53.9,271.75 50.95,268.67 44.5,283.43" fill="#0a8ef5"/><polygon points="149,219.95 155.45,218.55 152.5,215.48 146.05,216.88" fill="#f2f50d"/><polygon points="63.3,260.06 69.75,240.85 66.8,237.78 60.35,256.99" fill="#2cf5d3"/><polygon points="79.15,242.53 85.6,241.13 82.65,238.05 76.2,239.45" fill="#c0f53f"/><polygon points="95,242.8 101.45,241.4 98.5,238.33 92.05,239.73" fill="#c0f53f"/><polygon points="110.85,243.07 117.3,241.67 114.35,238.6 107.9,240" fill="#c0f53f"/><polygon points="126.7,243.34 133.15,241.94 130.2,238.87 123.75,240.27" fill="#c0f53f"/><polygon points="142.55,234.71 149,219.95 146.05,216.88 139.6,231.64" fill="#b6f549"/><polygon points="56.85,274.82 63.3,260.06 60.35,256.99 53.9,271.75" fill="#0ad2f5"/><polygon points="72.7,243.93 79.15,242.53 76.2,239.45 69.75,240.85" fill="#c0f53f"/><polygon points="88.55,244.2 95,242.8 92.05,239.73 85.6,241.13" fill="#c0f53f"/><polygon points="104.4,244.47 110.85,243.07 107.9,240 101.45,241.4" fill="#c0f53f"/><polygon points="120.25,244.74 126.7,243.34 123.75,240.27 117.3,241.67" fill="#c0f53f"/><polygon points="136.1,248.35 142.55,234.71 139.6,231.64 133.15,241.94" fill="#73f58c"/><polygon points="50.4,289.57 56.85,274.82 53.9,271.75 47.45,286.5" fill="#0a8ef5"/><polygon points="151.95,223.02 158.4,221.62 155.45,218.55 149,219.95" fill="#f2f50d"/><polygon points="66.25,263.13 72.7,243.93 69.75,240.85 63.3,260.06" fill="#2cf5d3"/><polygon points="82.1,245.6 88.55,244.2 85.6,241.13 79.15,242.53" fill="#c0f53f"/><polygon points="97.95,245.87 104.4,244.47 101.45,241.4 95,242.8" fill="#c0f53f"/><polygon points="113.8,246.14 120.25,244.74 117.3,241.67 110.85,243.07" fill="#c0f53f"/><polygon points="129.65,249.75 136.1,248.35 133.15,241.94 126.7,243.34" fill="#73f58c"/><polygon points="145.5,237.78 151.95,223.02 149,219.95 142.55,234.71" fill="#b6f549"/><polygon points="59.8,277.89 66.25,263.13 63.3,260.06 56.85,274.82" fill="#0ad2f5"/><polygon points="75.65,247 82.1,245.6 79.15,242.53 72.7,243.93" fill="#c0f53f"/><polygon points="91.5,247.27 97.95,245.87 95,242.8 88.55,244.2" fill="#c0f53f"/><polygon points="107.35,247.54 113.8,246.14 110.85,243.07 104.4,244.47" fill="#c0f53f"/><polygon points="123.2,251.15 129.65,249.75 126.7,243.34 120.25,244.74" fill="#73f58c"/><polygon points="139.05,262.55 145.5,237.78 142.55,234.71 136.1,248.35" fill="#2cf5d3"/><polygon points="53.35,292.64 59.8,277.89 56.85,274.82 50.4,289.57" fill="#0a8ef5"/><polygon points="154.9,226.1 161.35,224.7 158.4,221.62 151.95,223.02" fill="#f2f50d"/><polygon points="69.2,266.2 75.65,247 72.7,243.93 66.25,263.13" fill="#2cf5d3"/><polygon points="85.05,248.67 91.5,247.27 88.55,244.2 82.1,245.6" fill="#c0f53f"/><polygon points="100.9,248.94 107.35,247.54 104.4,244.47 97.95,245.87" fill="#c0f53f"/><polygon points="116.75,252.55 123.2,251.15 120.25,244.74 113.8,246.14" fill="#73f58c"/><polygon points="132.6,263.95 139.05,262.55 136.1,248.35 129.65,249.75" fill="#2cf5d3"/><polygon points="148.45,240.85 154.9,226.1 151.95,223.02 145.5,237.78" fill="#b6f549"/><polygon points="62.75,280.96 69.2,266.2 66.25,263.13 59.8,277.89" fill="#0ad2f5"/><polygon points="78.6,250.07 85.05,248.67 82.1,245.6 75.65,247" fill="#c0f53f"/><polygon points="94.45,250.34 100.9,248.94 97.95,245.87 91.5,247.27" fill="#c0f53f"/><polygon points="110.3,253.95 116.75,252.55 113.8,246.14 107.35,247.54" fill="#73f58c"/><polygon points="126.15,265.35 132.6,263.95 129.65,249.75 123.2,251.15" fill="#2cf5d3"/><polygon points="142,265.62 148.45,240.85 145.5,237.78 139.05,262.55" fill="#2cf5d3"/><polygon points="56.3,295.71 62.75,280.96 59.8,277.89 53.35,292.64" fill="#0a8ef5"/><polygon points="157.85,265.89 164.3,264.49 161.35,224.7 154.9,226.1" fill="#2cf5d3"/><polygon points="72.15,269.28 78.6,250.07 75.65,247 69.2,266.2" fill="#2cf5d3"/><polygon points="88,251.74 94.45,250.34 91.5,247.27 85.05,248.67" fill="#c0f53f"/><polygon points="103.85,255.35 110.3,253.95 107.35,247.54 100.9,248.94" fill="#73f58c"/><polygon points="119.7,266.75 126.15,265.35 123.2,251.15 116.75,252.55" fill="#2cf5d3"/><polygon points="135.55,267.02 142,265.62 139.05,262.55 132.6,263.95" fill="#2cf5d3"/><polygon points="151.4,267.29 157.85,265.89 154.9,226.1 148.45,240.85" fill="#2cf5d3"/><polygon points="65.7,284.03 72.15,269.28 69.2,266.2 62.75,280.96" fill="#0ad2f5"/><polygon points="81.55,253.14 88,251.74 85.05,248.67 78.6,250.07" fill="#c0f53f"/><polygon points="97.4,256.75 103.85,255.35 100.9,248.94 94.45,250.34" fill="#73f58c"/><polygon points="113.25,287.07 119.7,266.75 116.75,252.55 110.3,253.95" fill="#0a95f5"/><polygon points="129.1,268.42 135.55,267.02 132.6,263.95 126.15,265.35" fill="#2cf5d3"/><polygon points="144.95,268.69 151.4,267.29 148.45,240.85 142,265.62" fill="#2cf5d3"/><polygon points="59.25,298.79 65.7,284.03 62.75,280.96 56.3,295.71" fill="#0a8ef5"/><polygon points="75.1,272.35 81.55,253.14 78.6,250.07 72.15,269.28" fill="#2cf5d3"/><polygon points="90.95,258.15 97.4,256.75 94.45,250.34 88,251.74" fill="#73f58c"/><polygon points="106.8,288.47 113.25,287.07 110.3,253.95 103.85,255.35" fill="#0a95f5"/><polygon points="122.65,269.82 129.1,268.42 126.15,265.35 119.7,266.75" fill="#2cf5d3"/><polygon points="138.5,270.09 144.95,268.69 142,265.62 135.55,267.02" fill="#2cf5d3"/><polygon points="68.65,287.1 75.1,272.35 72.15,269.28 65.7,284.03" fill="#0ad2f5"/><polygon points="84.5,259.55 90.95,258.15 88,251.74 81.55,253.14" fill="#73f58c"/><polygon points="100.35,289.87 106.8,288.47 103.85,255.35 97.4,256.75" fill="#0a95f5"/><polygon points="116.2,290.14 122.65,269.82 119.7,266.75 113.25,287.07" fill="#0a95f5"/><polygon points="132.05,271.49 138.5,270.09 135.55,267.02 129.1,268.42" fill="#2cf5d3"/><polygon points="62.2,301.86 68.65,287.1 65.7,284.03 59.25,298.79" fill="#0a8ef5"/><polygon points="78.05,275.42 84.5,259.55 81.55,253.14 75.1,272.35" fill="#2cf5d3"/><polygon points="93.9,291.27 100.35,289.87 97.4,256.75 90.95,258.15" fill="#0a95f5"/><polygon points="109.75,291.54 116.2,290.14 113.25,287.07 106.8,288.47" fill="#0a95f5"/><polygon points="125.6,272.89 132.05,271.49 129.1,268.42 122.65,269.82" fill="#2cf5d3"/><polygon points="71.6,290.17 78.05,275.42 75.1,272.35 68.65,287.1" fill="#0ad2f5"/><polygon points="87.45,292.67 93.9,291.27 90.95,258.15 84.5,259.55" fill="#0a95f5"/><polygon points="103.3,292.94 109.75,291.54 106.8,288.47 100.35,289.87" fill="#0a95f5"/><polygon points="119.15,293.21 125.6,272.89 122.65,269.82 116.2,290.14" fill="#0a95f5"/><polygon points="65.15,304.93 71.6,290.17 68.65,287.1 62.2,301.86" fill="#0a8ef5"/><polygon points="81,294.07 87.45,292.67 84.5,259.55 78.05,275.42" fill="#0a95f5"/><polygon points="96.85,294.34 103.3,292.94 100.35,289.87 93.9,291.27" fill="#0a95f5"/><polygon points="112.7,294.61 119.15,293.21 116.2,290.14 109.75,291.54" fill="#0a95f5"/><polygon points="74.55,295.47 81,294.07 78.05,275.42 71.6,290.17" fill="#0a95f5"/><polygon points="90.4,295.74 96.85,294.34 93.9,291.27 87.45,292.67" fill="#0a95f5"/><polygon points="106.25,296.01 112.7,294.61 109.75,291.54 103.3,292.94" fill="#0a95f5"/><polygon points="68.1,308 74.55,295.47 71.6,290.17 65.15,304.93" fill="#0a8ef5"/><polygon points="83.95,297.14 90.4,295.74 87.45,292.67 81,294.07" fill="#0a95f5"/><polygon points="99.8,297.41 106.25,296.01 103.3,292.94 96.85,294.34" fill="#0a95f5"/><polygon points="77.5,298.54 83.95,297.14 81,294.07 74.55,295.47" fill="#0a95f5"/><polygon points="93.35,298.81 99.8,297.41 96.85,294.34 90.4,295.74" fill="#0a95f5"/><polygon points="71.05,311.07 77.5,298.54 74.55,295.47 68.1,308" fill="#0a8ef5"/><polygon points="86.9,300.21 93.35,298.81 90.4,295.74 83.95,297.14" fill="#0a95f5"/><polygon points="80.45,301.61 86.9,300.21 83.95,297.14 77.5,298.54" fill="#0a95f5"/><polygon points="74,314.14 80.45,301.61 77.5,298.54 71.05,311.07" fill="#0a8ef5"/></g>
<g stroke="#444" stroke-width="0.55"><line x1="74" y1="314.7" x2="164.3" y2="295.1"/><line x1="74" y1="314.7" x2="32.7" y2="271.7"/><line x1="32.7" y1="271.7" x2="32.7" y2="203.7"/><line x1="74" y1="314.7" x2="75.25" y2="316"/><line x1="92.06" y1="310.78" x2="93.31" y2="312.08"/><line x1="110.12" y1="306.86" x2="111.37" y2="308.16"/><line x1="128.18" y1="302.94" x2="129.43" y2="304.24"/><line x1="146.24" y1="299.02" x2="147.49" y2="300.32"/><line x1="164.3" y1="295.1" x2="165.55" y2="296.4"/><line x1="74" y1="314.7" x2="72.24" y2="315.08"/><line x1="53.35" y1="293.2" x2="51.59" y2="293.58"/><line x1="32.7" y1="271.7" x2="30.94" y2="272.08"/><line x1="32.7" y1="257.79" x2="31.45" y2="256.49"/><line x1="32.7" y1="246.66" x2="31.45" y2="245.36"/><line x1="32.7" y1="235.53" x2="31.45" y2="234.23"/><line x1="32.7" y1="224.4" x2="31.45" y2="223.1"/><line x1="32.7" y1="213.27" x2="31.45" y2="211.97"/></g>
<g font-family="Liberation Sans, sans-serif" font-size="6.2" fill="#555"><text transform="translate(29.1,259.39) scale(0.89,1)" text-anchor="end">0.3</text><text transform="translate(29.1,248.26) scale(0.89,1)" text-anchor="end">0.4</text><text transform="translate(29.1,237.13) scale(0.89,1)" text-anchor="end">0.5</text><text transform="translate(29.1,226) scale(0.89,1)" text-anchor="end">0.6</text><text transform="translate(29.1,214.87) scale(0.89,1)" text-anchor="end">0.7</text><text transform="translate(69.7,321.9) scale(0.89,1)" text-anchor="end">0</text><text transform="translate(49.05,300.4) scale(0.89,1)" text-anchor="end">0.5</text><text transform="translate(28.4,278.9) scale(0.89,1)" text-anchor="end">1</text><text transform="translate(81,324.1) scale(0.89,1)" text-anchor="middle">0</text><text transform="translate(99.06,320.18) scale(0.89,1)" text-anchor="middle">0.2</text><text transform="translate(117.12,316.26) scale(0.89,1)" text-anchor="middle">0.4</text><text transform="translate(135.18,312.34) scale(0.89,1)" text-anchor="middle">0.6</text><text transform="translate(153.24,308.42) scale(0.89,1)" text-anchor="middle">0.8</text><text transform="translate(171.3,304.5) scale(0.89,1)" text-anchor="middle">1</text></g>
<g font-family="Liberation Sans, sans-serif" font-weight="bold" font-size="7" fill="#111"><text transform="translate(16.9,234.3) rotate(-90) scale(0.89,1)" text-anchor="middle">Smart-City-Index</text><text transform="translate(31.1,320.6) scale(0.89,1)" text-anchor="middle">Transportation</text><text transform="translate(133.2,327.1) scale(0.89,1)" text-anchor="middle">Healthcare-Facility</text></g>
<rect x="187" y="181.5" width="175" height="149.5" fill="#f0f0f0"/>
<polygon points="218.2,268.9 260,311.8 348.1,292.5 348.1,227.2 306.3,184.3 218.2,203.6" fill="#fff"/>
<g stroke="#e4e4e4" stroke-width="0.5"><line x1="260" y1="311.8" x2="218.2" y2="268.9"/><line x1="218.2" y1="268.9" x2="218.2" y2="203.6"/><line x1="277.62" y1="307.94" x2="235.82" y2="265.04"/><line x1="235.82" y1="265.04" x2="235.82" y2="199.74"/><line x1="295.24" y1="304.08" x2="253.44" y2="261.18"/><line x1="253.44" y1="261.18" x2="253.44" y2="195.88"/><line x1="312.86" y1="300.22" x2="271.06" y2="257.32"/><line x1="271.06" y1="257.32" x2="271.06" y2="192.02"/><line x1="330.48" y1="296.36" x2="288.68" y2="253.46"/><line x1="288.68" y1="253.46" x2="288.68" y2="188.16"/><line x1="348.1" y1="292.5" x2="306.3" y2="249.6"/><line x1="306.3" y1="249.6" x2="306.3" y2="184.3"/><line x1="260" y1="311.8" x2="348.1" y2="292.5"/><line x1="348.1" y1="292.5" x2="348.1" y2="227.2"/><line x1="239.1" y1="290.35" x2="327.2" y2="271.05"/><line x1="327.2" y1="271.05" x2="327.2" y2="205.75"/><line x1="218.2" y1="268.9" x2="306.3" y2="249.6"/><line x1="306.3" y1="249.6" x2="306.3" y2="184.3"/><line x1="218.2" y1="256.5" x2="306.3" y2="237.2"/><line x1="306.3" y1="237.2" x2="348.1" y2="280.1"/><line x1="218.2" y1="245.82" x2="306.3" y2="226.52"/><line x1="306.3" y1="226.52" x2="348.1" y2="269.42"/><line x1="218.2" y1="235.13" x2="306.3" y2="215.83"/><line x1="306.3" y1="215.83" x2="348.1" y2="258.73"/><line x1="218.2" y1="224.44" x2="306.3" y2="205.14"/><line x1="306.3" y1="205.14" x2="348.1" y2="248.04"/><line x1="218.2" y1="213.75" x2="306.3" y2="194.45"/><line x1="306.3" y1="194.45" x2="348.1" y2="237.35"/><line x1="218.2" y1="203.07" x2="306.3" y2="183.77"/><line x1="306.3" y1="183.77" x2="348.1" y2="226.67"/></g>
<g stroke="#808080" stroke-width="0.8"><line x1="218.2" y1="203.6" x2="306.3" y2="184.3"/><line x1="306.3" y1="184.3" x2="348.1" y2="227.2"/><line x1="348.1" y1="227.2" x2="348.1" y2="292.5"/><line x1="306.3" y1="249.6" x2="306.3" y2="184.3"/><line x1="218.2" y1="268.9" x2="306.3" y2="249.6"/><line x1="306.3" y1="249.6" x2="348.1" y2="292.5"/></g>
<g stroke="#0a0a0a" stroke-width="0.5" stroke-linejoin="round"><polygon points="302.99,188.74 309.29,187.36 306.3,185.9 300.01,187.28" fill="#f5f50a"/><polygon points="296.7,190.12 302.99,188.74 300.01,187.28 293.71,188.66" fill="#f5f50a"/><polygon points="290.41,212.34 296.7,190.12 293.71,188.66 287.42,209.28" fill="#49f5b6"/><polygon points="305.98,199.82 312.27,198.44 309.29,187.36 302.99,188.74" fill="#d0f52f"/><polygon points="284.11,222.27 290.41,212.34 287.42,209.28 281.13,242.72" fill="#49f5b6"/><polygon points="299.69,201.2 305.98,199.82 302.99,188.74 296.7,190.12" fill="#d0f52f"/><polygon points="277.82,223.65 284.11,222.27 281.13,242.72 274.84,244.1" fill="#49f5b6"/><polygon points="293.39,215.4 299.69,201.2 296.7,190.12 290.41,212.34" fill="#49f5b6"/><polygon points="308.96,213.57 315.26,212.2 312.27,198.44 305.98,199.82" fill="#9ef561"/><polygon points="271.53,225.03 277.82,223.65 274.84,244.1 268.54,245.47" fill="#58f5a7"/><polygon points="287.1,225.33 293.39,215.4 290.41,212.34 284.11,222.27" fill="#49f5b6"/><polygon points="302.67,214.95 308.96,213.57 305.98,199.82 299.69,201.2" fill="#9ef561"/><polygon points="265.24,226.4 271.53,225.03 268.54,245.47 262.25,246.85" fill="#58f5a7"/><polygon points="280.81,226.71 287.1,225.33 284.11,222.27 277.82,223.65" fill="#49f5b6"/><polygon points="296.38,216.33 302.67,214.95 299.69,201.2 293.39,215.4" fill="#49f5b6"/><polygon points="311.95,216.64 318.24,215.26 315.26,212.2 308.96,213.57" fill="#9ef561"/><polygon points="258.94,227.78 265.24,226.4 262.25,246.85 255.96,248.23" fill="#58f5a7"/><polygon points="274.51,228.09 280.81,226.71 277.82,223.65 271.53,225.03" fill="#58f5a7"/><polygon points="290.09,228.4 296.38,216.33 293.39,215.4 287.1,225.33" fill="#49f5b6"/><polygon points="305.66,218.02 311.95,216.64 308.96,213.57 302.67,214.95" fill="#9ef561"/><polygon points="252.65,229.16 258.94,227.78 255.96,248.23 249.66,249.61" fill="#58f5a7"/><polygon points="268.22,229.47 274.51,228.09 271.53,225.03 265.24,226.4" fill="#58f5a7"/><polygon points="283.79,229.78 290.09,228.4 287.1,225.33 280.81,226.71" fill="#49f5b6"/><polygon points="299.36,219.4 305.66,218.02 302.67,214.95 296.38,216.33" fill="#9ef561"/><polygon points="314.94,219.7 321.23,218.32 318.24,215.26 311.95,216.64" fill="#9ef561"/><polygon points="246.36,230.54 252.65,229.16 249.66,249.61 243.37,250.99" fill="#58f5a7"/><polygon points="261.93,230.85 268.22,229.47 265.24,226.4 258.94,227.78" fill="#58f5a7"/><polygon points="277.5,231.15 283.79,229.78 280.81,226.71 274.51,228.09" fill="#58f5a7"/><polygon points="293.07,231.46 299.36,219.4 296.38,216.33 290.09,228.4" fill="#58f5a7"/><polygon points="308.64,221.08 314.94,219.7 311.95,216.64 305.66,218.02" fill="#9ef561"/><polygon points="240.06,231.92 246.36,230.54 243.37,250.99 237.08,252.37" fill="#58f5a7"/><polygon points="255.64,232.23 261.93,230.85 258.94,227.78 252.65,229.16" fill="#58f5a7"/><polygon points="271.21,232.53 277.5,231.15 274.51,228.09 268.22,229.47" fill="#58f5a7"/><polygon points="286.78,232.84 293.07,231.46 290.09,228.4 283.79,229.78" fill="#58f5a7"/><polygon points="302.35,222.46 308.64,221.08 305.66,218.02 299.36,219.4" fill="#9ef561"/><polygon points="317.92,229.18 324.21,227.8 321.23,218.32 314.94,219.7" fill="#74f58b"/><polygon points="233.77,230.09 240.06,231.92 237.08,252.37 230.79,227.03" fill="#6df592"/><polygon points="249.34,233.6 255.64,232.23 252.65,229.16 246.36,230.54" fill="#58f5a7"/><polygon points="264.91,233.91 271.21,232.53 268.22,229.47 261.93,230.85" fill="#58f5a7"/><polygon points="280.49,225.67 286.78,232.84 283.79,229.78 277.5,231.15" fill="#91f56e"/><polygon points="296.06,234.53 302.35,222.46 299.36,219.4 293.07,231.46" fill="#58f5a7"/><polygon points="311.63,230.56 317.92,229.18 314.94,219.7 308.64,221.08" fill="#74f58b"/><polygon points="227.48,251.78 233.77,230.09 230.79,227.03 224.49,217.72" fill="#17f5e8"/><polygon points="243.05,234.98 249.34,233.6 246.36,230.54 240.06,231.92" fill="#58f5a7"/><polygon points="258.62,235.29 264.91,233.91 261.93,230.85 255.64,232.23" fill="#58f5a7"/><polygon points="274.19,227.05 280.49,225.67 277.5,231.15 271.21,232.53" fill="#91f56e"/><polygon points="289.76,235.9 296.06,234.53 293.07,231.46 286.78,232.84" fill="#58f5a7"/><polygon points="305.34,231.94 311.63,230.56 308.64,221.08 302.35,222.46" fill="#74f58b"/><polygon points="320.91,232.24 327.2,230.87 324.21,227.8 317.92,229.18" fill="#74f58b"/><polygon points="221.19,259.57 227.48,251.78 224.49,217.72 218.2,222.3" fill="#0a9df5"/><polygon points="236.76,232.3 243.05,234.98 240.06,231.92 233.77,230.09" fill="#73f58c"/><polygon points="252.33,236.67 258.62,235.29 255.64,232.23 249.34,233.6" fill="#58f5a7"/><polygon points="267.9,228.43 274.19,227.05 271.21,232.53 264.91,233.91" fill="#91f56e"/><polygon points="283.47,228.73 289.76,235.9 286.78,232.84 280.49,225.67" fill="#91f56e"/><polygon points="299.04,233.32 305.34,231.94 302.35,222.46 296.06,234.53" fill="#74f58b"/><polygon points="314.61,233.62 320.91,232.24 317.92,229.18 311.63,230.56" fill="#74f58b"/><polygon points="230.46,253.99 236.76,232.3 233.77,230.09 227.48,251.78" fill="#17f5e8"/><polygon points="246.04,238.05 252.33,236.67 249.34,233.6 243.05,234.98" fill="#58f5a7"/><polygon points="261.61,229.8 267.9,228.43 264.91,233.91 258.62,235.29" fill="#91f56e"/><polygon points="277.18,230.11 283.47,228.73 280.49,225.67 274.19,227.05" fill="#bcf543"/><polygon points="292.75,234.69 299.04,233.32 296.06,234.53 289.76,235.9" fill="#74f58b"/><polygon points="308.32,235 314.61,233.62 311.63,230.56 305.34,231.94" fill="#74f58b"/><polygon points="323.89,235.31 330.19,233.93 327.2,230.87 320.91,232.24" fill="#74f58b"/><polygon points="224.17,262.63 230.46,253.99 227.48,251.78 221.19,259.57" fill="#0a9df5"/><polygon points="239.74,234.51 246.04,238.05 243.05,234.98 236.76,232.3" fill="#78f587"/><polygon points="255.31,231.18 261.61,229.8 258.62,235.29 252.33,236.67" fill="#91f56e"/><polygon points="270.89,231.49 277.18,230.11 274.19,227.05 267.9,228.43" fill="#bcf543"/><polygon points="286.46,231.8 292.75,234.69 289.76,235.9 283.47,228.73" fill="#91f56e"/><polygon points="302.03,236.38 308.32,235 305.34,231.94 299.04,233.32" fill="#74f58b"/><polygon points="317.6,236.69 323.89,235.31 320.91,232.24 314.61,233.62" fill="#74f58b"/><polygon points="233.45,256.19 239.74,234.51 236.76,232.3 230.46,253.99" fill="#17f5e8"/><polygon points="249.02,232.56 255.31,231.18 252.33,236.67 246.04,238.05" fill="#91f56e"/><polygon points="264.59,232.87 270.89,231.49 267.9,228.43 261.61,229.8" fill="#bcf543"/><polygon points="280.16,233.18 286.46,231.8 283.47,228.73 277.18,230.11" fill="#bcf543"/><polygon points="295.74,237.76 302.03,236.38 299.04,233.32 292.75,234.69" fill="#74f58b"/><polygon points="311.31,238.07 317.6,236.69 314.61,233.62 308.32,235" fill="#74f58b"/><polygon points="326.88,238.37 333.17,236.99 330.19,233.93 323.89,235.31" fill="#74f58b"/><polygon points="227.16,265.7 233.45,256.19 230.46,253.99 224.17,262.63" fill="#0a9df5"/><polygon points="242.73,236.72 249.02,232.56 246.04,238.05 239.74,234.51" fill="#7ef581"/><polygon points="258.3,234.25 264.59,232.87 261.61,229.8 255.31,231.18" fill="#bcf543"/><polygon points="273.87,234.55 280.16,233.18 277.18,230.11 270.89,231.49" fill="#bcf543"/><polygon points="289.44,234.86 295.74,237.76 292.75,234.69 286.46,231.8" fill="#91f56e"/><polygon points="305.01,239.44 311.31,238.07 308.32,235 302.03,236.38" fill="#74f58b"/><polygon points="320.59,239.75 326.88,238.37 323.89,235.31 317.6,236.69" fill="#74f58b"/><polygon points="236.44,258.4 242.73,236.72 239.74,234.51 233.45,256.19" fill="#17f5e8"/><polygon points="252.01,235.63 258.3,234.25 255.31,231.18 249.02,232.56" fill="#91f56e"/><polygon points="267.58,235.93 273.87,234.55 270.89,231.49 264.59,232.87" fill="#bcf543"/><polygon points="283.15,236.24 289.44,234.86 286.46,231.8 280.16,233.18" fill="#bcf543"/><polygon points="298.72,240.82 305.01,239.44 302.03,236.38 295.74,237.76" fill="#74f58b"/><polygon points="314.29,241.13 320.59,239.75 317.6,236.69 311.31,238.07" fill="#74f58b"/><polygon points="329.86,241.44 336.16,240.06 333.17,236.99 326.88,238.37" fill="#74f58b"/><polygon points="230.14,268.76 236.44,258.4 233.45,256.19 227.16,265.7" fill="#0a9df5"/><polygon points="245.71,238.93 252.01,235.63 249.02,232.56 242.73,236.72" fill="#84f57b"/><polygon points="261.29,237.31 267.58,235.93 264.59,232.87 258.3,234.25" fill="#bcf543"/><polygon points="276.86,237.62 283.15,236.24 280.16,233.18 273.87,234.55" fill="#bcf543"/><polygon points="292.43,237.93 298.72,240.82 295.74,237.76 289.44,234.86" fill="#91f56e"/><polygon points="308,242.51 314.29,241.13 311.31,238.07 305.01,239.44" fill="#74f58b"/><polygon points="323.57,242.82 329.86,241.44 326.88,238.37 320.59,239.75" fill="#74f58b"/><polygon points="239.42,260.61 245.71,238.93 242.73,236.72 236.44,258.4" fill="#17f5e8"/><polygon points="254.99,238.69 261.29,237.31 258.3,234.25 252.01,235.63" fill="#91f56e"/><polygon points="270.56,239 276.86,237.62 273.87,234.55 267.58,235.93" fill="#bcf543"/><polygon points="286.14,239.3 292.43,237.93 289.44,234.86 283.15,236.24" fill="#bcf543"/><polygon points="301.71,243.89 308,242.51 305.01,239.44 298.72,240.82" fill="#74f58b"/><polygon points="317.28,244.19 323.57,242.82 320.59,239.75 314.29,241.13" fill="#74f58b"/><polygon points="332.85,244.5 339.14,243.12 336.16,240.06 329.86,241.44" fill="#74f58b"/><polygon points="233.13,271.82 239.42,260.61 236.44,258.4 230.14,268.76" fill="#0a9df5"/><polygon points="248.7,241.14 254.99,238.69 252.01,235.63 245.71,238.93" fill="#8af575"/><polygon points="264.27,240.38 270.56,239 267.58,235.93 261.29,237.31" fill="#bcf543"/><polygon points="279.84,240.68 286.14,239.3 283.15,236.24 276.86,237.62" fill="#bcf543"/><polygon points="295.41,240.99 301.71,243.89 298.72,240.82 292.43,237.93" fill="#91f56e"/><polygon points="310.99,245.57 317.28,244.19 314.29,241.13 308,242.51" fill="#74f58b"/><polygon points="326.56,245.88 332.85,244.5 329.86,241.44 323.57,242.82" fill="#74f58b"/><polygon points="242.41,262.82 248.7,241.14 245.71,238.93 239.42,260.61" fill="#17f5e8"/><polygon points="257.98,241.75 264.27,240.38 261.29,237.31 254.99,238.69" fill="#91f56e"/><polygon points="273.55,242.06 279.84,240.68 276.86,237.62 270.56,239" fill="#bcf543"/><polygon points="289.12,242.37 295.41,240.99 292.43,237.93 286.14,239.3" fill="#bcf543"/><polygon points="304.69,246.95 310.99,245.57 308,242.51 301.71,243.89" fill="#74f58b"/><polygon points="320.26,247.26 326.56,245.88 323.57,242.82 317.28,244.19" fill="#74f58b"/><polygon points="335.84,264.67 342.13,263.29 339.14,243.12 332.85,244.5" fill="#0aeaf5"/><polygon points="236.11,274.89 242.41,262.82 239.42,260.61 233.13,271.82" fill="#0a9df5"/><polygon points="251.69,243.35 257.98,241.75 254.99,238.69 248.7,241.14" fill="#8ff570"/><polygon points="267.26,243.44 273.55,242.06 270.56,239 264.27,240.38" fill="#bcf543"/><polygon points="282.83,243.75 289.12,242.37 286.14,239.3 279.84,240.68" fill="#bcf543"/><polygon points="298.4,244.05 304.69,246.95 301.71,243.89 295.41,240.99" fill="#91f56e"/><polygon points="313.97,248.64 320.26,247.26 317.28,244.19 310.99,245.57" fill="#74f58b"/><polygon points="329.54,266.04 335.84,264.67 332.85,244.5 326.56,245.88" fill="#0aeaf5"/><polygon points="245.39,265.03 251.69,243.35 248.7,241.14 242.41,262.82" fill="#17f5e8"/><polygon points="260.96,244.82 267.26,243.44 264.27,240.38 257.98,241.75" fill="#91f56e"/><polygon points="276.54,245.13 282.83,243.75 279.84,240.68 273.55,242.06" fill="#bcf543"/><polygon points="292.11,245.43 298.4,244.05 295.41,240.99 289.12,242.37" fill="#bcf543"/><polygon points="307.68,250.02 313.97,248.64 310.99,245.57 304.69,246.95" fill="#74f58b"/><polygon points="323.25,267.42 329.54,266.04 326.56,245.88 320.26,247.26" fill="#0aeaf5"/><polygon points="338.82,267.73 345.11,266.35 342.13,263.29 335.84,264.67" fill="#0aeaf5"/><polygon points="239.1,277.95 245.39,265.03 242.41,262.82 236.11,274.89" fill="#0a9df5"/><polygon points="254.67,245.56 260.96,244.82 257.98,241.75 251.69,243.35" fill="#95f56a"/><polygon points="270.24,246.5 276.54,245.13 273.55,242.06 267.26,243.44" fill="#bcf543"/><polygon points="285.81,246.81 292.11,245.43 289.12,242.37 282.83,243.75" fill="#bcf543"/><polygon points="301.39,251.39 307.68,250.02 304.69,246.95 298.4,244.05" fill="#74f58b"/><polygon points="316.96,268.8 323.25,267.42 320.26,247.26 313.97,248.64" fill="#0aeaf5"/><polygon points="332.53,269.11 338.82,267.73 335.84,264.67 329.54,266.04" fill="#0aeaf5"/><polygon points="248.38,267.24 254.67,245.56 251.69,243.35 245.39,265.03" fill="#17f5e8"/><polygon points="263.95,247.88 270.24,246.5 267.26,243.44 260.96,244.82" fill="#91f56e"/><polygon points="279.52,248.19 285.81,246.81 282.83,243.75 276.54,245.13" fill="#bcf543"/><polygon points="295.09,252.77 301.39,251.39 298.4,244.05 292.11,245.43" fill="#74f58b"/><polygon points="310.66,270.18 316.96,268.8 313.97,248.64 307.68,250.02" fill="#0aeaf5"/><polygon points="326.24,270.49 332.53,269.11 329.54,266.04 323.25,267.42" fill="#0aeaf5"/><polygon points="341.81,270.79 348.1,269.42 345.11,266.35 338.82,267.73" fill="#0aeaf5"/><polygon points="242.09,281.02 248.38,267.24 245.39,265.03 239.1,277.95" fill="#0a9df5"/><polygon points="257.66,247.77 263.95,247.88 260.96,244.82 254.67,245.56" fill="#9bf564"/><polygon points="273.23,249.57 279.52,248.19 276.54,245.13 270.24,246.5" fill="#bcf543"/><polygon points="288.8,254.15 295.09,252.77 292.11,245.43 285.81,246.81" fill="#74f58b"/><polygon points="304.37,271.56 310.66,270.18 307.68,250.02 301.39,251.39" fill="#0aeaf5"/><polygon points="319.94,271.87 326.24,270.49 323.25,267.42 316.96,268.8" fill="#0aeaf5"/><polygon points="335.51,272.17 341.81,270.79 338.82,267.73 332.53,269.11" fill="#0aeaf5"/><polygon points="251.36,269.45 257.66,247.77 254.67,245.56 248.38,267.24" fill="#17f5e8"/><polygon points="266.94,250.95 273.23,249.57 270.24,246.5 263.95,247.88" fill="#91f56e"/><polygon points="282.51,255.53 288.8,254.15 285.81,246.81 279.52,248.19" fill="#74f58b"/><polygon points="298.08,283.62 304.37,271.56 301.39,251.39 295.09,252.77" fill="#0a9df5"/><polygon points="313.65,273.24 319.94,271.87 316.96,268.8 310.66,270.18" fill="#0aeaf5"/><polygon points="329.22,273.55 335.51,272.17 332.53,269.11 326.24,270.49" fill="#0aeaf5"/><polygon points="245.07,284.08 251.36,269.45 248.38,267.24 242.09,281.02" fill="#0a9df5"/><polygon points="260.64,249.97 266.94,250.95 263.95,247.88 257.66,247.77" fill="#9ff560"/><polygon points="276.21,256.91 282.51,255.53 279.52,248.19 273.23,249.57" fill="#74f58b"/><polygon points="291.79,285 298.08,283.62 295.09,252.77 288.8,254.15" fill="#0a9df5"/><polygon points="307.36,274.62 313.65,273.24 310.66,270.18 304.37,271.56" fill="#0aeaf5"/><polygon points="322.93,274.93 329.22,273.55 326.24,270.49 319.94,271.87" fill="#0aeaf5"/><polygon points="254.35,271.66 260.64,249.97 257.66,247.77 251.36,269.45" fill="#17f5e8"/><polygon points="269.92,258.29 276.21,256.91 273.23,249.57 266.94,250.95" fill="#74f58b"/><polygon points="285.49,286.38 291.79,285 288.8,254.15 282.51,255.53" fill="#0a9df5"/><polygon points="301.06,286.69 307.36,274.62 304.37,271.56 298.08,283.62" fill="#0a9df5"/><polygon points="316.64,276.31 322.93,274.93 319.94,271.87 313.65,273.24" fill="#0aeaf5"/><polygon points="248.06,287.15 254.35,271.66 251.36,269.45 245.07,284.08" fill="#0a9df5"/><polygon points="263.63,252.18 269.92,258.29 266.94,250.95 260.64,249.97" fill="#a3f55c"/><polygon points="279.2,287.76 285.49,286.38 282.51,255.53 276.21,256.91" fill="#0a9df5"/><polygon points="294.77,288.07 301.06,286.69 298.08,283.62 291.79,285" fill="#0a9df5"/><polygon points="310.34,277.69 316.64,276.31 313.65,273.24 307.36,274.62" fill="#0aeaf5"/><polygon points="257.34,273.87 263.63,252.18 260.64,249.97 254.35,271.66" fill="#17f5e8"/><polygon points="272.91,289.14 279.2,287.76 276.21,256.91 269.92,258.29" fill="#0a9df5"/><polygon points="288.48,289.45 294.77,288.07 291.79,285 285.49,286.38" fill="#0a9df5"/><polygon points="304.05,289.75 310.34,277.69 307.36,274.62 301.06,286.69" fill="#0a9df5"/><polygon points="251.04,290.21 257.34,273.87 254.35,271.66 248.06,287.15" fill="#0a9df5"/><polygon points="266.61,290.52 272.91,289.14 269.92,258.29 263.63,252.18" fill="#0a9df5"/><polygon points="282.19,290.82 288.48,289.45 285.49,286.38 279.2,287.76" fill="#0a9df5"/><polygon points="297.76,291.13 304.05,289.75 301.06,286.69 294.77,288.07" fill="#0a9df5"/><polygon points="260.32,291.9 266.61,290.52 263.63,252.18 257.34,273.87" fill="#0a9df5"/><polygon points="275.89,292.2 282.19,290.82 279.2,287.76 272.91,289.14" fill="#0a9df5"/><polygon points="291.46,292.51 297.76,291.13 294.77,288.07 288.48,289.45" fill="#0a9df5"/><polygon points="254.03,293.27 260.32,291.9 257.34,273.87 251.04,290.21" fill="#0a9df5"/><polygon points="269.6,293.58 275.89,292.2 272.91,289.14 266.61,290.52" fill="#0a9df5"/><polygon points="285.17,293.89 291.46,292.51 288.48,289.45 282.19,290.82" fill="#0a9df5"/><polygon points="263.31,294.96 269.6,293.58 266.61,290.52 260.32,291.9" fill="#0a9df5"/><polygon points="278.88,295.27 285.17,293.89 282.19,290.82 275.89,292.2" fill="#0a9df5"/><polygon points="257.01,296.34 263.31,294.96 260.32,291.9 254.03,293.27" fill="#0a9df5"/><polygon points="272.59,296.65 278.88,295.27 275.89,292.2 269.6,293.58" fill="#0a9df5"/><polygon points="266.29,310.85 272.59,296.65 269.6,293.58 263.31,294.96" fill="#0a47f5"/><polygon points="260,312.23 266.29,310.85 263.31,294.96 257.01,296.34" fill="#0a47f5"/></g>
<g stroke="#444" stroke-width="0.55"><line x1="260" y1="311.8" x2="348.1" y2="292.5"/><line x1="260" y1="311.8" x2="218.2" y2="268.9"/><line x1="218.2" y1="268.9" x2="218.2" y2="203.6"/><line x1="260" y1="311.8" x2="261.26" y2="313.09"/><line x1="277.62" y1="307.94" x2="278.88" y2="309.23"/><line x1="295.24" y1="304.08" x2="296.5" y2="305.37"/><line x1="312.86" y1="300.22" x2="314.12" y2="301.51"/><line x1="330.48" y1="296.36" x2="331.74" y2="297.65"/><line x1="348.1" y1="292.5" x2="349.36" y2="293.79"/><line x1="260" y1="311.8" x2="258.24" y2="312.19"/><line x1="239.1" y1="290.35" x2="237.34" y2="290.74"/><line x1="218.2" y1="268.9" x2="216.44" y2="269.29"/><line x1="218.2" y1="256.5" x2="216.94" y2="255.21"/><line x1="218.2" y1="245.82" x2="216.94" y2="244.53"/><line x1="218.2" y1="235.13" x2="216.94" y2="233.84"/><line x1="218.2" y1="224.44" x2="216.94" y2="223.15"/><line x1="218.2" y1="213.75" x2="216.94" y2="212.46"/><line x1="218.2" y1="203.07" x2="216.94" y2="201.78"/></g>
<g font-family="Liberation Sans, sans-serif" font-size="6.2" fill="#555"><text transform="translate(214.6,258.1) scale(0.89,1)" text-anchor="end">0.3</text><text transform="translate(214.6,247.42) scale(0.89,1)" text-anchor="end">0.4</text><text transform="translate(214.6,236.73) scale(0.89,1)" text-anchor="end">0.5</text><text transform="translate(214.6,226.04) scale(0.89,1)" text-anchor="end">0.6</text><text transform="translate(214.6,215.35) scale(0.89,1)" text-anchor="end">0.7</text><text transform="translate(214.6,204.67) scale(0.89,1)" text-anchor="end">0.8</text><text transform="translate(255.7,319) scale(0.89,1)" text-anchor="end">0</text><text transform="translate(234.8,297.55) scale(0.89,1)" text-anchor="end">0.5</text><text transform="translate(213.9,276.1) scale(0.89,1)" text-anchor="end">1</text><text transform="translate(267,321.2) scale(0.89,1)" text-anchor="middle">0</text><text transform="translate(284.62,317.34) scale(0.89,1)" text-anchor="middle">0.2</text><text transform="translate(302.24,313.48) scale(0.89,1)" text-anchor="middle">0.4</text><text transform="translate(319.86,309.62) scale(0.89,1)" text-anchor="middle">0.6</text><text transform="translate(337.48,305.76) scale(0.89,1)" text-anchor="middle">0.8</text><text transform="translate(355.1,301.9) scale(0.89,1)" text-anchor="middle">1</text></g>
<g font-family="Liberation Sans, sans-serif" font-weight="bold" font-size="7" fill="#111"><text transform="translate(202.1,232) rotate(-90) scale(0.89,1)" text-anchor="middle">Smart-City-Index</text><text transform="translate(214.3,316.7) scale(0.89,1)" text-anchor="middle">Transportation</text><text transform="translate(313,326.5) scale(0.89,1)" text-anchor="middle">Industrial-Automation</text></g>
<rect x="375" y="181.5" width="169" height="149.5" fill="#f0f0f0"/>
<polygon points="400.5,268.1 443.5,311.8 535.4,292 535.4,226.5 492.4,182.8 400.5,202.6" fill="#fff"/>
<g stroke="#e4e4e4" stroke-width="0.5"><line x1="443.5" y1="311.8" x2="400.5" y2="268.1"/><line x1="400.5" y1="268.1" x2="400.5" y2="202.6"/><line x1="461.88" y1="307.84" x2="418.88" y2="264.14"/><line x1="418.88" y1="264.14" x2="418.88" y2="198.64"/><line x1="480.26" y1="303.88" x2="437.26" y2="260.18"/><line x1="437.26" y1="260.18" x2="437.26" y2="194.68"/><line x1="498.64" y1="299.92" x2="455.64" y2="256.22"/><line x1="455.64" y1="256.22" x2="455.64" y2="190.72"/><line x1="517.02" y1="295.96" x2="474.02" y2="252.26"/><line x1="474.02" y1="252.26" x2="474.02" y2="186.76"/><line x1="535.4" y1="292" x2="492.4" y2="248.3"/><line x1="492.4" y1="248.3" x2="492.4" y2="182.8"/><line x1="443.5" y1="311.8" x2="535.4" y2="292"/><line x1="535.4" y1="292" x2="535.4" y2="226.5"/><line x1="422" y1="289.95" x2="513.9" y2="270.15"/><line x1="513.9" y1="270.15" x2="513.9" y2="204.65"/><line x1="400.5" y1="268.1" x2="492.4" y2="248.3"/><line x1="492.4" y1="248.3" x2="492.4" y2="182.8"/><line x1="400.5" y1="257.55" x2="492.4" y2="237.75"/><line x1="492.4" y1="237.75" x2="535.4" y2="281.45"/><line x1="400.5" y1="246.67" x2="492.4" y2="226.87"/><line x1="492.4" y1="226.87" x2="535.4" y2="270.57"/><line x1="400.5" y1="235.79" x2="492.4" y2="215.99"/><line x1="492.4" y1="215.99" x2="535.4" y2="259.69"/><line x1="400.5" y1="224.9" x2="492.4" y2="205.1"/><line x1="492.4" y1="205.1" x2="535.4" y2="248.8"/><line x1="400.5" y1="214.02" x2="492.4" y2="194.22"/><line x1="492.4" y1="194.22" x2="535.4" y2="237.92"/><line x1="400.5" y1="203.14" x2="492.4" y2="183.34"/><line x1="492.4" y1="183.34" x2="535.4" y2="227.04"/></g>
<g stroke="#808080" stroke-width="0.8"><line x1="400.5" y1="202.6" x2="492.4" y2="182.8"/><line x1="492.4" y1="182.8" x2="535.4" y2="226.5"/><line x1="535.4" y1="226.5" x2="535.4" y2="292"/><line x1="492.4" y1="248.3" x2="492.4" y2="182.8"/><line x1="400.5" y1="268.1" x2="492.4" y2="248.3"/><line x1="492.4" y1="248.3" x2="535.4" y2="292"/></g>
<g stroke="#0a0a0a" stroke-width="0.5" stroke-linejoin="round"><polygon points="488.91,223.79 495.47,222.37 492.4,219.25 485.84,220.66" fill="#29f5d6"/><polygon points="482.34,225.2 488.91,223.79 485.84,220.66 479.27,222.08" fill="#29f5d6"/><polygon points="475.78,226.61 482.34,225.2 479.27,222.08 472.71,223.49" fill="#29f5d6"/><polygon points="491.98,223.64 498.54,222.23 495.47,222.37 488.91,223.79" fill="#3ff5c0"/><polygon points="469.21,228.03 475.78,226.61 472.71,223.49 466.14,224.91" fill="#29f5d6"/><polygon points="485.41,214.18 491.98,223.64 488.91,223.79 482.34,225.2" fill="#87f578"/><polygon points="462.65,229.44 469.21,228.03 466.14,224.91 459.58,226.32" fill="#29f5d6"/><polygon points="478.85,215.59 485.41,214.18 482.34,225.2 475.78,226.61" fill="#87f578"/><polygon points="495.05,226.76 501.61,225.35 498.54,222.23 491.98,223.64" fill="#3ff5c0"/><polygon points="456.09,201.48 462.65,229.44 459.58,226.32 453.01,198.36" fill="#d4f52b"/><polygon points="472.29,217 478.85,215.59 475.78,226.61 469.21,228.03" fill="#87f578"/><polygon points="488.49,208.59 495.05,226.76 491.98,223.64 485.41,214.18" fill="#b6f549"/><polygon points="449.52,200.72 456.09,201.48 453.01,198.36 446.45,197.6" fill="#def521"/><polygon points="465.72,218.42 472.29,217 469.21,228.03 462.65,229.44" fill="#87f578"/><polygon points="481.92,210.01 488.49,208.59 485.41,214.18 478.85,215.59" fill="#b6f549"/><polygon points="498.12,229.89 504.69,228.47 501.61,225.35 495.05,226.76" fill="#3ff5c0"/><polygon points="442.96,202.13 449.52,200.72 446.45,197.6 439.89,199.01" fill="#def521"/><polygon points="459.16,204.6 465.72,218.42 462.65,229.44 456.09,201.48" fill="#d4f52b"/><polygon points="475.36,211.42 481.92,210.01 478.85,215.59 472.29,217" fill="#b6f549"/><polygon points="491.56,211.71 498.12,229.89 495.05,226.76 488.49,208.59" fill="#b6f549"/><polygon points="436.39,199.19 442.96,202.13 439.89,199.01 433.32,196.07" fill="#f2f50d"/><polygon points="452.59,199.49 459.16,204.6 456.09,201.48 449.52,200.72" fill="#f2f50d"/><polygon points="468.79,212.84 475.36,211.42 472.29,217 465.72,218.42" fill="#b6f549"/><polygon points="484.99,213.13 491.56,211.71 488.49,208.59 481.92,210.01" fill="#b6f549"/><polygon points="501.19,233.01 507.76,231.59 504.69,228.47 498.12,229.89" fill="#3ff5c0"/><polygon points="429.83,200.61 436.39,199.19 433.32,196.07 426.76,197.49" fill="#f2f50d"/><polygon points="446.03,200.9 452.59,199.49 449.52,200.72 442.96,202.13" fill="#f2f50d"/><polygon points="462.23,207.72 468.79,212.84 465.72,218.42 459.16,204.6" fill="#d4f52b"/><polygon points="478.43,214.54 484.99,213.13 481.92,210.01 475.36,211.42" fill="#b6f549"/><polygon points="494.63,214.84 501.19,233.01 498.12,229.89 491.56,211.71" fill="#b6f549"/><polygon points="423.26,202.02 429.83,200.61 426.76,197.49 420.19,198.9" fill="#f2f50d"/><polygon points="439.46,202.32 446.03,200.9 442.96,202.13 436.39,199.19" fill="#f2f50d"/><polygon points="455.66,202.61 462.23,207.72 459.16,204.6 452.59,199.49" fill="#f2f50d"/><polygon points="471.86,215.96 478.43,214.54 475.36,211.42 468.79,212.84" fill="#b6f549"/><polygon points="488.06,216.25 494.63,214.84 491.56,211.71 484.99,213.13" fill="#b6f549"/><polygon points="504.26,236.13 510.83,234.71 507.76,231.59 501.19,233.01" fill="#3ff5c0"/><polygon points="416.7,203.44 423.26,202.02 420.19,198.9 413.63,200.32" fill="#f2f50d"/><polygon points="432.9,203.73 439.46,202.32 436.39,199.19 429.83,200.61" fill="#f2f50d"/><polygon points="449.1,204.02 455.66,202.61 452.59,199.49 446.03,200.9" fill="#f2f50d"/><polygon points="465.3,210.84 471.86,215.96 468.79,212.84 462.23,207.72" fill="#d4f52b"/><polygon points="481.5,217.66 488.06,216.25 484.99,213.13 478.43,214.54" fill="#b6f549"/><polygon points="497.7,217.96 504.26,236.13 501.19,233.01 494.63,214.84" fill="#b6f549"/><polygon points="410.14,233.14 416.7,203.44 413.63,200.32 407.06,230.02" fill="#5cf5a3"/><polygon points="426.34,205.14 432.9,203.73 429.83,200.61 423.26,202.02" fill="#f2f50d"/><polygon points="442.54,205.44 449.1,204.02 446.03,200.9 439.46,202.32" fill="#f2f50d"/><polygon points="458.74,205.73 465.3,210.84 462.23,207.72 455.66,202.61" fill="#f2f50d"/><polygon points="474.94,219.08 481.5,217.66 478.43,214.54 471.86,215.96" fill="#b6f549"/><polygon points="491.14,219.37 497.7,217.96 494.63,214.84 488.06,216.25" fill="#b6f549"/><polygon points="507.34,239.25 513.9,237.84 510.83,234.71 504.26,236.13" fill="#3ff5c0"/><polygon points="403.57,251.96 410.14,233.14 407.06,230.02 400.5,248.84" fill="#0acef5"/><polygon points="419.77,206.56 426.34,205.14 423.26,202.02 416.7,203.44" fill="#f2f50d"/><polygon points="435.97,206.85 442.54,205.44 439.46,202.32 432.9,203.73" fill="#f2f50d"/><polygon points="452.17,207.14 458.74,205.73 455.66,202.61 449.1,204.02" fill="#f2f50d"/><polygon points="468.37,213.97 474.94,219.08 471.86,215.96 465.3,210.84" fill="#d4f52b"/><polygon points="484.57,220.79 491.14,219.37 488.06,216.25 481.5,217.66" fill="#b6f549"/><polygon points="500.77,221.08 507.34,239.25 504.26,236.13 497.7,217.96" fill="#b6f549"/><polygon points="413.21,236.26 419.77,206.56 416.7,203.44 410.14,233.14" fill="#5cf5a3"/><polygon points="429.41,208.27 435.97,206.85 432.9,203.73 426.34,205.14" fill="#f2f50d"/><polygon points="445.61,208.56 452.17,207.14 449.1,204.02 442.54,205.44" fill="#f2f50d"/><polygon points="461.81,208.85 468.37,213.97 465.3,210.84 458.74,205.73" fill="#f2f50d"/><polygon points="478.01,222.2 484.57,220.79 481.5,217.66 474.94,219.08" fill="#b6f549"/><polygon points="494.21,222.49 500.77,221.08 497.7,217.96 491.14,219.37" fill="#b6f549"/><polygon points="510.41,242.37 516.97,240.96 513.9,237.84 507.34,239.25" fill="#3ff5c0"/><polygon points="406.64,255.08 413.21,236.26 410.14,233.14 403.57,251.96" fill="#0acef5"/><polygon points="422.84,209.68 429.41,208.27 426.34,205.14 419.77,206.56" fill="#f2f50d"/><polygon points="439.04,209.97 445.61,208.56 442.54,205.44 435.97,206.85" fill="#f2f50d"/><polygon points="455.24,210.27 461.81,208.85 458.74,205.73 452.17,207.14" fill="#f2f50d"/><polygon points="471.44,217.09 478.01,222.2 474.94,219.08 468.37,213.97" fill="#d4f52b"/><polygon points="487.64,223.91 494.21,222.49 491.14,219.37 484.57,220.79" fill="#b6f549"/><polygon points="503.84,247.05 510.41,242.37 507.34,239.25 500.77,221.08" fill="#29f5d6"/><polygon points="416.28,239.38 422.84,209.68 419.77,206.56 413.21,236.26" fill="#5cf5a3"/><polygon points="432.48,211.39 439.04,209.97 435.97,206.85 429.41,208.27" fill="#f2f50d"/><polygon points="448.68,211.68 455.24,210.27 452.17,207.14 445.61,208.56" fill="#f2f50d"/><polygon points="464.88,211.97 471.44,217.09 468.37,213.97 461.81,208.85" fill="#f2f50d"/><polygon points="481.08,225.32 487.64,223.91 484.57,220.79 478.01,222.2" fill="#b6f549"/><polygon points="497.28,248.46 503.84,247.05 500.77,221.08 494.21,222.49" fill="#29f5d6"/><polygon points="513.48,245.49 520.04,244.08 516.97,240.96 510.41,242.37" fill="#3ff5c0"/><polygon points="409.71,258.21 416.28,239.38 413.21,236.26 406.64,255.08" fill="#0acef5"/><polygon points="425.91,212.8 432.48,211.39 429.41,208.27 422.84,209.68" fill="#f2f50d"/><polygon points="442.11,213.09 448.68,211.68 445.61,208.56 439.04,209.97" fill="#f2f50d"/><polygon points="458.31,213.39 464.88,211.97 461.81,208.85 455.24,210.27" fill="#f2f50d"/><polygon points="474.51,220.21 481.08,225.32 478.01,222.2 471.44,217.09" fill="#d4f52b"/><polygon points="490.71,249.88 497.28,248.46 494.21,222.49 487.64,223.91" fill="#29f5d6"/><polygon points="506.91,250.17 513.48,245.49 510.41,242.37 503.84,247.05" fill="#29f5d6"/><polygon points="419.35,242.5 425.91,212.8 422.84,209.68 416.28,239.38" fill="#5cf5a3"/><polygon points="435.55,214.51 442.11,213.09 439.04,209.97 432.48,211.39" fill="#f2f50d"/><polygon points="451.75,214.8 458.31,213.39 455.24,210.27 448.68,211.68" fill="#f2f50d"/><polygon points="467.95,215.09 474.51,220.21 471.44,217.09 464.88,211.97" fill="#f2f50d"/><polygon points="484.15,251.29 490.71,249.88 487.64,223.91 481.08,225.32" fill="#29f5d6"/><polygon points="500.35,251.59 506.91,250.17 503.84,247.05 497.28,248.46" fill="#29f5d6"/><polygon points="516.55,251.88 523.11,250.46 520.04,244.08 513.48,245.49" fill="#29f5d6"/><polygon points="412.79,261.33 419.35,242.5 416.28,239.38 409.71,258.21" fill="#0acef5"/><polygon points="428.99,215.92 435.55,214.51 432.48,211.39 425.91,212.8" fill="#f2f50d"/><polygon points="445.19,216.22 451.75,214.8 448.68,211.68 442.11,213.09" fill="#f2f50d"/><polygon points="461.39,216.51 467.95,215.09 464.88,211.97 458.31,213.39" fill="#f2f50d"/><polygon points="477.59,223.33 484.15,251.29 481.08,225.32 474.51,220.21" fill="#d4f52b"/><polygon points="493.79,253 500.35,251.59 497.28,248.46 490.71,249.88" fill="#29f5d6"/><polygon points="509.99,253.29 516.55,251.88 513.48,245.49 506.91,250.17" fill="#29f5d6"/><polygon points="422.42,245.63 428.99,215.92 425.91,212.8 419.35,242.5" fill="#5cf5a3"/><polygon points="438.62,217.63 445.19,216.22 442.11,213.09 435.55,214.51" fill="#f2f50d"/><polygon points="454.82,217.92 461.39,216.51 458.31,213.39 451.75,214.8" fill="#f2f50d"/><polygon points="471.02,218.22 477.59,223.33 474.51,220.21 467.95,215.09" fill="#f2f50d"/><polygon points="487.22,254.41 493.79,253 490.71,249.88 484.15,251.29" fill="#29f5d6"/><polygon points="503.42,254.71 509.99,253.29 506.91,250.17 500.35,251.59" fill="#29f5d6"/><polygon points="519.62,255 526.19,253.59 523.11,250.46 516.55,251.88" fill="#29f5d6"/><polygon points="415.86,264.45 422.42,245.63 419.35,242.5 412.79,261.33" fill="#0acef5"/><polygon points="432.06,219.04 438.62,217.63 435.55,214.51 428.99,215.92" fill="#f2f50d"/><polygon points="448.26,219.34 454.82,217.92 451.75,214.8 445.19,216.22" fill="#f2f50d"/><polygon points="464.46,219.63 471.02,218.22 467.95,215.09 461.39,216.51" fill="#f2f50d"/><polygon points="480.66,254.74 487.22,254.41 484.15,251.29 477.59,223.33" fill="#31f5ce"/><polygon points="496.86,256.12 503.42,254.71 500.35,251.59 493.79,253" fill="#29f5d6"/><polygon points="513.06,256.41 519.62,255 516.55,251.88 509.99,253.29" fill="#29f5d6"/><polygon points="425.49,248.75 432.06,219.04 428.99,215.92 422.42,245.63" fill="#5cf5a3"/><polygon points="441.69,220.75 448.26,219.34 445.19,216.22 438.62,217.63" fill="#f2f50d"/><polygon points="457.89,221.04 464.46,219.63 461.39,216.51 454.82,217.92" fill="#f2f50d"/><polygon points="474.09,256.15 480.66,254.74 477.59,223.33 471.02,218.22" fill="#31f5ce"/><polygon points="490.29,257.54 496.86,256.12 493.79,253 487.22,254.41" fill="#29f5d6"/><polygon points="506.49,257.83 513.06,256.41 509.99,253.29 503.42,254.71" fill="#29f5d6"/><polygon points="522.69,258.12 529.26,256.71 526.19,253.59 519.62,255" fill="#29f5d6"/><polygon points="418.93,267.57 425.49,248.75 422.42,245.63 415.86,264.45" fill="#0acef5"/><polygon points="435.13,222.17 441.69,220.75 438.62,217.63 432.06,219.04" fill="#f2f50d"/><polygon points="451.33,222.46 457.89,221.04 454.82,217.92 448.26,219.34" fill="#f2f50d"/><polygon points="467.53,257.57 474.09,256.15 471.02,218.22 464.46,219.63" fill="#31f5ce"/><polygon points="483.73,258.95 490.29,257.54 487.22,254.41 480.66,254.74" fill="#29f5d6"/><polygon points="499.93,259.24 506.49,257.83 503.42,254.71 496.86,256.12" fill="#29f5d6"/><polygon points="516.13,259.54 522.69,258.12 519.62,255 513.06,256.41" fill="#29f5d6"/><polygon points="428.56,251.87 435.13,222.17 432.06,219.04 425.49,248.75" fill="#5cf5a3"/><polygon points="444.76,223.87 451.33,222.46 448.26,219.34 441.69,220.75" fill="#f2f50d"/><polygon points="460.96,258.98 467.53,257.57 464.46,219.63 457.89,221.04" fill="#31f5ce"/><polygon points="477.16,260.36 483.73,258.95 480.66,254.74 474.09,256.15" fill="#29f5d6"/><polygon points="493.36,260.66 499.93,259.24 496.86,256.12 490.29,257.54" fill="#29f5d6"/><polygon points="509.56,260.95 516.13,259.54 513.06,256.41 506.49,257.83" fill="#29f5d6"/><polygon points="525.76,261.24 532.33,259.83 529.26,256.71 522.69,258.12" fill="#29f5d6"/><polygon points="422,270.69 428.56,251.87 425.49,248.75 418.93,267.57" fill="#0acef5"/><polygon points="438.2,225.29 444.76,223.87 441.69,220.75 435.13,222.17" fill="#f2f50d"/><polygon points="454.4,260.4 460.96,258.98 457.89,221.04 451.33,222.46" fill="#31f5ce"/><polygon points="470.6,261.78 477.16,260.36 474.09,256.15 467.53,257.57" fill="#29f5d6"/><polygon points="486.8,262.07 493.36,260.66 490.29,257.54 483.73,258.95" fill="#29f5d6"/><polygon points="503,262.36 509.56,260.95 506.49,257.83 499.93,259.24" fill="#29f5d6"/><polygon points="519.2,262.66 525.76,261.24 522.69,258.12 516.13,259.54" fill="#29f5d6"/><polygon points="431.64,254.99 438.2,225.29 435.13,222.17 428.56,251.87" fill="#5cf5a3"/><polygon points="447.84,261.81 454.4,260.4 451.33,222.46 444.76,223.87" fill="#31f5ce"/><polygon points="464.04,263.19 470.6,261.78 467.53,257.57 460.96,258.98" fill="#29f5d6"/><polygon points="480.24,263.49 486.8,262.07 483.73,258.95 477.16,260.36" fill="#29f5d6"/><polygon points="496.44,263.78 503,262.36 499.93,259.24 493.36,260.66" fill="#29f5d6"/><polygon points="512.64,264.07 519.2,262.66 516.13,259.54 509.56,260.95" fill="#29f5d6"/><polygon points="528.84,264.36 535.4,262.95 532.33,259.83 525.76,261.24" fill="#29f5d6"/><polygon points="425.07,273.81 431.64,254.99 428.56,251.87 422,270.69" fill="#0acef5"/><polygon points="441.27,263.23 447.84,261.81 444.76,223.87 438.2,225.29" fill="#31f5ce"/><polygon points="457.47,264.61 464.04,263.19 460.96,258.98 454.4,260.4" fill="#29f5d6"/><polygon points="473.67,264.9 480.24,263.49 477.16,260.36 470.6,261.78" fill="#29f5d6"/><polygon points="489.87,265.19 496.44,263.78 493.36,260.66 486.8,262.07" fill="#29f5d6"/><polygon points="506.07,265.49 512.64,264.07 509.56,260.95 503,262.36" fill="#29f5d6"/><polygon points="522.27,265.78 528.84,264.36 525.76,261.24 519.2,262.66" fill="#29f5d6"/><polygon points="434.71,264.64 441.27,263.23 438.2,225.29 431.64,254.99" fill="#31f5ce"/><polygon points="450.91,266.02 457.47,264.61 454.4,260.4 447.84,261.81" fill="#29f5d6"/><polygon points="467.11,266.31 473.67,264.9 470.6,261.78 464.04,263.19" fill="#29f5d6"/><polygon points="483.31,266.61 489.87,265.19 486.8,262.07 480.24,263.49" fill="#29f5d6"/><polygon points="499.51,266.9 506.07,265.49 503,262.36 496.44,263.78" fill="#29f5d6"/><polygon points="515.71,267.19 522.27,265.78 519.2,262.66 512.64,264.07" fill="#29f5d6"/><polygon points="428.14,276.93 434.71,264.64 431.64,254.99 425.07,273.81" fill="#0acef5"/><polygon points="444.34,267.44 450.91,266.02 447.84,261.81 441.27,263.23" fill="#29f5d6"/><polygon points="460.54,267.73 467.11,266.31 464.04,263.19 457.47,264.61" fill="#29f5d6"/><polygon points="476.74,268.02 483.31,266.61 480.24,263.49 473.67,264.9" fill="#29f5d6"/><polygon points="492.94,268.31 499.51,266.9 496.44,263.78 489.87,265.19" fill="#29f5d6"/><polygon points="509.14,268.61 515.71,267.19 512.64,264.07 506.07,265.49" fill="#29f5d6"/><polygon points="437.78,269.94 444.34,267.44 441.27,263.23 434.71,264.64" fill="#22f5dd"/><polygon points="453.98,269.14 460.54,267.73 457.47,264.61 450.91,266.02" fill="#29f5d6"/><polygon points="470.18,269.44 476.74,268.02 473.67,264.9 467.11,266.31" fill="#29f5d6"/><polygon points="486.38,269.73 492.94,268.31 489.87,265.19 483.31,266.61" fill="#29f5d6"/><polygon points="502.58,270.02 509.14,268.61 506.07,265.49 499.51,266.9" fill="#29f5d6"/><polygon points="431.21,280.06 437.78,269.94 434.71,264.64 428.14,276.93" fill="#0acef5"/><polygon points="447.41,270.56 453.98,269.14 450.91,266.02 444.34,267.44" fill="#29f5d6"/><polygon points="463.61,270.85 470.18,269.44 467.11,266.31 460.54,267.73" fill="#29f5d6"/><polygon points="479.81,271.14 486.38,269.73 483.31,266.61 476.74,268.02" fill="#29f5d6"/><polygon points="496.01,271.44 502.58,270.02 499.51,266.9 492.94,268.31" fill="#29f5d6"/><polygon points="440.85,273.06 447.41,270.56 444.34,267.44 437.78,269.94" fill="#22f5dd"/><polygon points="457.05,272.26 463.61,270.85 460.54,267.73 453.98,269.14" fill="#29f5d6"/><polygon points="473.25,272.56 479.81,271.14 476.74,268.02 470.18,269.44" fill="#29f5d6"/><polygon points="489.45,272.85 496.01,271.44 492.94,268.31 486.38,269.73" fill="#29f5d6"/><polygon points="434.29,283.18 440.85,273.06 437.78,269.94 431.21,280.06" fill="#0acef5"/><polygon points="450.49,273.68 457.05,272.26 453.98,269.14 447.41,270.56" fill="#29f5d6"/><polygon points="466.69,273.97 473.25,272.56 470.18,269.44 463.61,270.85" fill="#29f5d6"/><polygon points="482.89,274.26 489.45,272.85 486.38,269.73 479.81,271.14" fill="#29f5d6"/><polygon points="443.92,276.18 450.49,273.68 447.41,270.56 440.85,273.06" fill="#22f5dd"/><polygon points="460.12,275.39 466.69,273.97 463.61,270.85 457.05,272.26" fill="#29f5d6"/><polygon points="476.32,275.68 482.89,274.26 479.81,271.14 473.25,272.56" fill="#29f5d6"/><polygon points="437.36,286.3 443.92,276.18 440.85,273.06 434.29,283.18" fill="#0acef5"/><polygon points="453.56,276.8 460.12,275.39 457.05,272.26 450.49,273.68" fill="#29f5d6"/><polygon points="469.76,277.09 476.32,275.68 473.25,272.56 466.69,273.97" fill="#29f5d6"/><polygon points="446.99,279.3 453.56,276.8 450.49,273.68 443.92,276.18" fill="#22f5dd"/><polygon points="463.19,278.51 469.76,277.09 466.69,273.97 460.12,275.39" fill="#29f5d6"/><polygon points="440.43,289.42 446.99,279.3 443.92,276.18 437.36,286.3" fill="#0acef5"/><polygon points="456.63,279.92 463.19,278.51 460.12,275.39 453.56,276.8" fill="#29f5d6"/><polygon points="450.06,310.71 456.63,279.92 453.56,276.8 446.99,279.3" fill="#0a47f5"/><polygon points="443.5,312.13 450.06,310.71 446.99,279.3 440.43,289.42" fill="#0a47f5"/></g>
<g stroke="#444" stroke-width="0.55"><line x1="443.5" y1="311.8" x2="535.4" y2="292"/><line x1="443.5" y1="311.8" x2="400.5" y2="268.1"/><line x1="400.5" y1="268.1" x2="400.5" y2="202.6"/><line x1="443.5" y1="311.8" x2="444.76" y2="313.08"/><line x1="461.88" y1="307.84" x2="463.14" y2="309.12"/><line x1="480.26" y1="303.88" x2="481.52" y2="305.16"/><line x1="498.64" y1="299.92" x2="499.9" y2="301.2"/><line x1="517.02" y1="295.96" x2="518.28" y2="297.24"/><line x1="535.4" y1="292" x2="536.66" y2="293.28"/><line x1="443.5" y1="311.8" x2="441.74" y2="312.18"/><line x1="422" y1="289.95" x2="420.24" y2="290.33"/><line x1="400.5" y1="268.1" x2="398.74" y2="268.48"/><line x1="400.5" y1="257.55" x2="399.24" y2="256.26"/><line x1="400.5" y1="246.67" x2="399.24" y2="245.38"/><line x1="400.5" y1="235.79" x2="399.24" y2="234.5"/><line x1="400.5" y1="224.9" x2="399.24" y2="223.62"/><line x1="400.5" y1="214.02" x2="399.24" y2="212.74"/><line x1="400.5" y1="203.14" x2="399.24" y2="201.86"/></g>
<g font-family="Liberation Sans, sans-serif" font-size="6.2" fill="#555"><text transform="translate(396.9,259.15) scale(0.89,1)" text-anchor="end">0.2</text><text transform="translate(396.9,248.27) scale(0.89,1)" text-anchor="end">0.3</text><text transform="translate(396.9,237.39) scale(0.89,1)" text-anchor="end">0.4</text><text transform="translate(396.9,226.5) scale(0.89,1)" text-anchor="end">0.5</text><text transform="translate(396.9,215.62) scale(0.89,1)" text-anchor="end">0.6</text><text transform="translate(396.9,204.74) scale(0.89,1)" text-anchor="end">0.7</text><text transform="translate(439.2,319) scale(0.89,1)" text-anchor="end">0</text><text transform="translate(417.7,297.15) scale(0.89,1)" text-anchor="end">0.5</text><text transform="translate(396.2,275.3) scale(0.89,1)" text-anchor="end">1</text><text transform="translate(450.5,321.2) scale(0.89,1)" text-anchor="middle">0</text><text transform="translate(468.88,317.24) scale(0.89,1)" text-anchor="middle">0.2</text><text transform="translate(487.26,313.28) scale(0.89,1)" text-anchor="middle">0.4</text><text transform="translate(505.64,309.32) scale(0.89,1)" text-anchor="middle">0.6</text><text transform="translate(524.02,305.36) scale(0.89,1)" text-anchor="middle">0.8</text><text transform="translate(542.4,301.4) scale(0.89,1)" text-anchor="middle">1</text></g>
<g font-family="Liberation Sans, sans-serif" font-weight="bold" font-size="7" fill="#111"><text transform="translate(386.6,235) rotate(-90) scale(0.89,1)" text-anchor="middle">Smart-City-Index</text><text transform="translate(400.4,317.3) scale(0.89,1)" text-anchor="middle">Governance</text><text transform="translate(499.6,326.5) scale(0.89,1)" text-anchor="middle">Industrial-Automation</text></g>
</svg>
</body></html>
